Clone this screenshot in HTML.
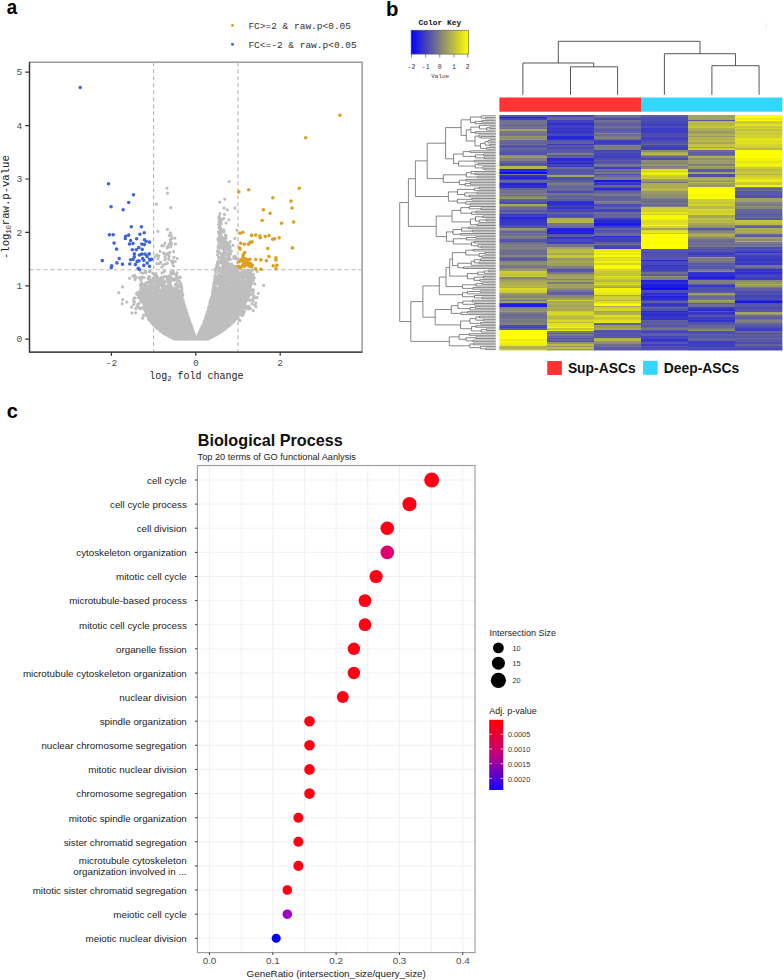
<!DOCTYPE html><html><head><meta charset="utf-8"><style>html,body{margin:0;padding:0;background:#fff;width:783px;height:980px;overflow:hidden}svg{display:block}</style></head><body><svg width="783" height="980" viewBox="0 0 783 980"><text transform="translate(6.8 14.3) scale(0.9 1)" font-family='"Liberation Sans", sans-serif' font-weight="bold" font-size="20.7" fill="#000">a</text><text x="386.1" y="15.6" font-family='"Liberation Sans", sans-serif' font-weight="bold" font-size="20.3" fill="#000">b</text><text x="6.7" y="417.8" font-family='"Liberation Sans", sans-serif' font-weight="bold" font-size="20" fill="#000">c</text><rect x="29.5" y="62.2" width="332.6" height="290.0" fill="#fff" stroke="#8a8a8a" stroke-width="1.3"/><g stroke="#b5b5b5" stroke-width="1.1" stroke-dasharray="4 3" fill="none"><path d="M29.5 269.7H362.1"/><path d="M153.6 62.2V352.2"/><path d="M238.0 62.2V352.2"/></g><path d="M221.8 328.3h0M212.2 336.7h0M200.6 333.3h0M146.0 312.2h0M220.8 311.3h0M190.9 336.8h0M213.6 334.6h0M212.4 333.9h0M208.6 321.6h0M160.9 317.6h0M241.6 309.5h0M228.7 307.5h0M178.6 324.6h0M181.0 326.8h0M184.2 328.5h0M201.9 339.1h0M173.6 335.0h0M221.6 328.2h0M190.3 339.0h0M239.1 303.6h0M240.2 296.7h0M209.8 327.8h0M234.5 266.7h0M226.8 261.9h0M228.7 323.8h0M190.3 325.4h0M202.8 337.2h0M215.1 328.5h0M156.3 327.2h0M156.8 326.5h0M163.6 313.9h0M158.0 258.9h0M222.5 301.0h0M190.3 332.5h0M223.9 301.9h0M212.8 316.1h0M186.5 335.8h0M161.9 305.4h0M174.3 315.4h0M182.6 336.9h0M165.3 327.0h0M213.0 335.4h0M174.2 331.1h0M169.2 333.8h0M239.0 283.7h0M163.6 328.1h0M164.2 326.9h0M210.6 336.0h0M208.0 315.6h0M217.6 327.3h0M225.9 273.7h0M209.9 317.2h0M236.0 313.0h0M235.5 295.2h0M209.8 334.5h0M152.3 321.7h0M200.2 338.7h0M190.9 329.7h0M188.5 330.1h0M219.5 328.8h0M214.6 330.1h0M218.1 295.3h0M187.5 324.4h0M161.5 313.4h0M172.0 322.7h0M221.5 285.0h0M185.5 338.6h0M235.8 303.6h0M204.6 330.0h0M167.7 317.4h0M213.6 336.1h0M201.0 329.6h0M249.9 292.2h0M191.1 336.2h0M203.7 337.9h0M209.8 336.9h0M186.2 329.0h0M149.8 304.3h0M221.4 301.0h0M203.7 337.5h0M167.3 328.5h0M141.9 308.2h0M192.0 337.0h0M203.1 328.9h0M171.9 329.0h0M180.9 321.5h0M183.7 323.1h0M165.7 313.3h0M231.8 321.6h0M168.6 328.3h0M223.8 312.9h0M203.0 332.6h0M230.2 253.8h0M225.3 316.3h0M235.6 258.1h0M231.2 290.6h0M201.9 338.4h0M219.2 329.5h0M205.3 319.5h0M160.8 327.5h0M177.8 336.7h0M214.5 314.5h0M224.8 327.0h0M202.4 330.4h0M238.3 315.2h0M213.5 324.0h0M181.9 334.4h0M202.7 337.0h0M213.0 295.4h0M183.1 338.0h0M172.6 334.1h0M192.3 335.4h0M213.6 293.1h0M219.9 319.0h0M170.0 335.5h0M172.9 262.3h0M201.8 328.4h0M175.8 335.0h0M166.3 327.1h0M164.4 333.4h0M155.5 312.3h0M243.0 301.7h0M161.9 320.9h0M231.3 299.4h0M234.1 314.6h0M204.8 338.0h0M220.4 326.3h0M230.4 314.2h0M231.6 309.0h0M209.0 338.1h0M223.6 320.4h0M188.9 338.8h0M210.4 323.8h0M162.6 327.4h0M172.5 337.2h0M202.1 332.3h0M160.2 329.4h0M220.2 319.4h0M200.2 336.2h0M159.2 323.1h0M172.1 337.7h0M225.8 277.1h0M153.3 323.9h0M170.3 327.4h0M180.5 338.3h0M224.5 307.1h0M209.7 334.2h0M209.6 330.1h0M204.3 331.5h0M164.8 330.8h0M183.6 338.7h0M227.8 313.7h0M208.7 317.8h0M241.7 302.2h0M234.2 270.0h0M169.2 311.2h0M202.0 337.2h0M214.2 335.2h0M222.6 288.5h0M162.2 330.1h0M211.4 322.1h0M206.9 327.1h0M213.5 329.5h0M236.5 311.8h0M174.9 338.5h0M219.0 328.4h0M219.9 299.9h0M249.8 274.7h0M189.8 323.1h0M213.7 333.0h0M176.2 335.5h0M182.7 333.5h0M250.7 288.7h0M197.9 337.1h0M187.6 335.2h0M207.0 336.2h0M222.4 324.2h0M206.1 337.2h0M224.6 258.1h0M165.3 314.3h0M157.7 314.0h0M231.1 300.4h0M210.8 326.0h0M222.6 264.0h0M179.1 329.7h0M185.0 306.7h0M218.5 330.2h0M223.7 249.7h0M184.1 318.0h0M193.7 338.0h0M230.1 324.8h0M205.5 334.4h0M176.6 331.6h0M166.2 330.3h0M239.0 300.8h0M221.8 326.3h0M179.0 280.8h0M176.3 335.2h0M178.3 338.5h0M199.4 335.5h0M170.1 285.3h0M160.9 319.6h0M222.7 312.6h0M161.7 299.7h0M184.4 335.1h0M211.6 312.3h0M174.1 336.5h0M193.5 335.1h0M242.8 291.7h0M207.5 333.0h0M194.5 336.9h0M238.2 301.6h0M212.7 326.3h0M211.2 328.8h0M192.8 330.2h0M248.9 284.9h0M166.1 331.7h0M181.2 330.9h0M191.0 335.7h0M216.0 334.1h0M169.6 319.0h0M217.4 331.6h0M207.3 336.6h0M224.3 296.9h0M222.2 255.2h0M182.3 311.4h0M176.0 328.8h0M181.0 338.2h0M185.4 321.7h0M242.7 307.3h0M229.9 321.0h0M224.4 329.5h0M146.5 297.7h0M162.2 321.7h0M166.2 302.8h0M211.9 316.6h0M186.0 321.3h0M184.4 328.0h0M180.3 311.4h0M167.2 313.9h0M171.4 319.1h0M189.7 325.1h0M140.0 293.9h0M200.5 332.6h0M214.6 326.5h0M162.1 317.4h0M247.2 279.9h0M212.5 332.9h0M143.3 302.4h0M159.4 302.7h0M253.2 292.0h0M249.6 281.0h0M206.9 336.9h0M239.4 308.8h0M209.8 311.8h0M185.7 335.9h0M180.2 330.6h0M176.8 308.9h0M167.7 324.1h0M165.6 321.5h0M220.7 331.3h0M159.0 297.0h0M214.7 331.8h0M209.9 330.1h0M223.3 316.2h0M229.9 275.5h0M188.8 327.3h0M219.1 300.8h0M235.1 308.5h0M213.2 324.7h0M204.5 332.5h0M203.7 336.7h0M249.8 291.1h0M217.9 300.0h0M178.5 331.3h0M173.7 333.3h0M185.7 339.1h0M187.5 338.1h0M208.5 335.2h0M168.2 334.6h0M213.9 317.7h0M169.3 331.2h0M210.7 300.0h0M173.9 334.2h0M179.8 333.3h0M211.5 320.4h0M160.3 321.6h0M182.1 323.5h0M168.3 277.7h0M189.0 336.1h0M203.6 325.0h0M218.0 317.2h0M174.8 328.3h0M212.1 331.6h0M235.3 316.8h0M172.3 322.0h0M213.2 293.2h0M176.6 334.2h0M193.9 339.1h0M238.6 294.9h0M172.2 333.1h0M244.8 290.7h0M213.8 283.8h0M176.8 339.0h0M233.8 289.4h0M239.0 299.0h0M181.3 329.2h0M173.1 324.6h0M182.3 309.2h0M192.5 337.6h0M222.0 303.8h0M159.4 290.5h0M186.3 325.7h0M227.4 259.8h0M152.6 318.2h0M218.2 331.6h0M222.6 320.9h0M154.2 287.3h0M206.7 339.1h0M202.3 336.5h0M233.9 306.7h0M235.6 317.6h0M234.0 304.8h0M242.4 291.0h0M221.3 260.1h0M191.7 326.8h0M241.8 290.6h0M153.2 307.8h0M165.8 326.1h0M229.2 299.9h0M224.1 308.5h0M190.5 327.6h0M240.5 309.9h0M216.2 323.9h0M203.7 328.4h0M152.4 322.4h0M170.4 308.1h0M167.4 303.2h0M147.8 299.8h0M182.1 338.8h0M229.1 305.2h0M203.4 338.5h0M209.9 302.8h0M168.5 326.9h0M214.0 323.0h0M211.0 337.1h0M169.6 281.2h0M220.5 312.4h0M144.3 290.1h0M240.8 305.8h0M205.5 321.4h0M171.2 336.9h0M191.3 334.3h0M177.2 335.8h0M202.0 332.9h0M170.9 332.9h0M205.1 335.4h0M170.0 332.3h0M207.7 311.4h0M216.7 297.8h0M157.8 306.7h0M226.9 327.2h0M238.2 313.4h0M184.0 338.0h0M240.7 296.0h0M172.7 296.0h0M198.5 338.4h0M171.2 329.2h0M183.5 335.2h0M156.7 316.3h0M177.0 335.2h0M165.3 332.8h0M190.1 331.2h0M159.9 324.1h0M180.2 323.3h0M204.2 335.0h0M183.6 319.4h0M215.2 329.9h0M211.7 302.9h0M206.6 325.4h0M247.2 275.9h0M156.8 263.7h0M210.6 321.6h0M207.9 318.5h0M202.0 331.6h0M161.9 327.5h0M207.0 331.9h0M161.5 294.6h0M208.5 325.9h0M192.2 328.7h0M166.5 324.9h0M190.3 330.9h0M237.2 278.9h0M158.9 312.0h0M240.4 301.4h0M211.5 301.6h0M233.5 320.9h0M171.8 334.0h0M166.1 332.9h0M222.3 325.5h0M155.1 325.4h0M163.8 330.6h0M200.8 334.6h0M172.9 332.2h0M172.1 331.2h0M205.8 318.3h0M174.0 322.4h0M181.4 325.4h0M189.2 326.8h0M173.1 319.6h0M203.4 334.8h0M187.7 321.7h0M168.2 334.8h0M189.3 333.1h0M157.3 278.2h0M182.6 322.2h0M206.9 325.7h0M215.1 329.7h0M175.9 332.2h0M175.7 329.5h0M176.7 323.5h0M173.6 317.0h0M230.9 310.7h0M213.4 319.7h0M220.4 315.0h0M232.0 320.5h0M236.8 316.2h0M218.8 326.6h0M194.6 338.2h0M176.6 321.6h0M234.7 308.6h0M211.4 322.8h0M206.9 330.4h0M214.7 278.6h0M182.4 336.6h0M173.4 318.2h0M208.1 322.9h0M167.8 323.5h0M224.7 321.9h0M220.8 316.4h0M227.2 325.2h0M168.1 310.2h0M158.4 318.4h0M226.8 272.6h0M218.2 320.4h0M171.7 289.0h0M189.0 332.3h0M173.4 313.8h0M213.2 329.0h0M235.4 316.6h0M226.4 322.0h0M181.4 310.4h0M207.7 338.3h0M182.4 316.8h0M186.1 317.8h0M184.4 314.6h0M164.7 290.4h0M223.7 319.2h0M187.7 333.0h0M232.3 301.4h0M234.7 293.1h0M207.7 312.9h0M176.8 334.4h0M220.8 322.6h0M178.5 337.8h0M212.1 328.1h0M212.2 333.1h0M170.5 319.9h0M176.5 314.6h0M156.9 324.3h0M170.6 326.3h0M239.1 293.9h0M169.0 324.4h0M160.8 331.1h0M175.9 303.1h0M159.2 303.4h0M181.1 307.5h0M164.6 316.4h0M200.7 338.3h0M220.5 299.9h0M161.5 306.6h0M162.6 325.7h0M172.6 263.3h0M227.0 321.1h0M211.8 297.1h0M240.7 308.8h0M179.7 335.0h0M145.1 308.6h0M177.1 330.5h0M213.7 318.3h0M226.2 318.9h0M172.9 306.2h0M186.7 331.9h0M176.4 284.8h0M188.8 334.5h0M175.9 311.3h0M197.8 336.4h0M148.8 300.0h0M149.8 277.2h0M172.5 335.9h0M205.2 339.0h0M216.6 327.8h0M208.4 329.8h0M197.8 338.1h0M213.5 313.9h0M218.1 323.7h0M224.4 246.9h0M164.8 332.6h0M224.1 319.1h0M230.2 314.0h0M178.5 292.9h0M243.3 292.3h0M216.3 300.0h0M158.0 317.7h0M176.0 324.7h0M213.7 309.5h0M179.5 337.3h0M178.1 332.2h0M213.8 318.1h0M171.3 235.7h0M255.9 306.6h0M222.9 330.5h0M226.6 303.3h0M221.7 308.6h0M230.4 308.7h0M213.5 291.8h0M234.6 289.6h0M224.2 261.6h0M203.7 325.3h0M231.1 281.9h0M234.2 309.2h0M192.3 334.3h0M217.0 327.7h0M179.9 318.2h0M214.9 310.7h0M186.3 331.0h0M218.8 332.2h0M217.0 316.7h0M187.2 333.4h0M163.9 322.1h0M220.1 302.4h0M174.4 333.5h0M218.7 309.6h0M216.1 321.7h0M230.5 320.6h0M150.9 316.7h0M165.1 317.7h0M224.0 279.7h0M153.5 311.8h0M148.8 315.6h0M160.7 307.5h0M151.9 289.2h0M230.5 321.5h0M179.7 311.3h0M216.4 332.2h0M162.6 315.7h0M159.5 329.1h0M175.9 326.9h0M241.3 279.2h0M221.3 291.0h0M183.0 325.7h0M199.2 334.2h0M225.2 276.4h0M164.9 329.8h0M177.2 336.6h0M220.8 219.5h0M185.0 327.4h0M218.5 316.1h0M168.4 334.2h0M165.5 291.9h0M158.9 315.2h0M228.6 321.7h0M171.5 324.9h0M178.4 318.6h0M164.7 281.7h0M185.0 322.3h0M166.0 305.3h0M145.1 293.9h0M221.5 326.1h0M174.1 338.3h0M216.2 326.5h0M192.1 331.3h0M219.9 313.0h0M184.8 329.6h0M217.1 334.1h0M172.2 328.4h0M223.0 301.7h0M208.3 326.7h0M206.5 322.7h0M151.6 306.7h0M180.0 335.5h0M171.3 303.0h0M220.2 318.1h0M181.0 328.1h0M205.4 330.5h0M188.0 328.7h0M145.1 298.8h0M210.1 337.4h0M145.4 297.8h0M236.0 298.6h0M146.1 282.8h0M181.5 319.3h0M210.3 301.0h0M162.1 325.5h0M153.8 291.1h0M240.4 298.3h0M218.7 322.5h0M230.5 320.0h0M155.1 303.8h0M232.8 315.1h0M200.3 338.8h0M165.4 334.0h0M167.4 300.3h0M166.4 318.1h0M177.3 306.3h0M185.1 331.7h0M210.7 323.5h0M183.6 306.7h0M212.9 293.5h0M183.3 316.5h0M168.0 285.9h0M150.0 302.3h0M175.3 325.3h0M150.1 320.5h0M190.6 329.6h0M165.4 316.2h0M139.7 278.0h0M154.3 319.2h0M207.5 332.7h0M151.2 314.5h0M151.9 322.8h0M220.7 318.3h0M191.1 337.7h0M172.3 318.0h0M200.1 332.1h0M150.7 303.6h0M170.6 324.3h0M250.4 294.6h0M205.5 322.0h0M215.9 292.2h0M179.4 338.7h0M217.3 330.8h0M126.9 302.1h0M235.9 286.5h0M249.7 284.0h0M235.0 313.6h0M149.7 277.5h0M251.0 276.5h0M205.6 326.1h0M225.1 321.1h0M193.2 333.7h0M165.9 332.2h0M183.9 339.1h0M242.3 296.2h0M209.0 318.6h0M207.5 339.0h0M167.3 315.2h0M183.6 324.9h0M233.8 316.3h0M188.5 322.9h0M208.1 320.6h0M230.4 317.1h0M185.4 324.1h0M220.9 293.6h0M245.0 274.4h0M205.2 330.0h0M241.1 305.1h0M167.8 312.9h0M152.3 316.0h0M228.8 311.6h0M154.8 321.4h0M230.9 313.0h0M201.7 328.7h0M217.3 300.3h0M223.0 287.2h0M162.7 332.7h0M225.2 311.0h0M223.0 328.7h0M153.3 278.1h0M159.8 322.8h0M227.7 326.5h0M237.1 307.4h0M212.4 295.8h0M182.3 332.9h0M173.6 293.5h0M185.5 310.3h0M214.4 307.4h0M158.4 310.1h0M203.6 339.0h0M218.6 310.2h0M188.4 339.0h0M153.0 282.0h0M188.2 327.4h0M184.5 332.8h0M219.3 313.9h0M177.7 319.0h0M148.1 278.7h0M233.3 279.4h0M171.6 310.3h0M180.9 319.3h0M243.1 277.7h0M238.0 258.5h0M172.9 337.8h0M219.9 319.9h0M149.9 310.5h0M156.7 254.9h0M209.4 338.3h0M235.6 284.2h0M224.7 312.6h0M154.2 274.5h0M175.4 311.7h0M177.0 272.8h0M243.3 291.2h0M175.2 297.6h0M184.1 305.6h0M169.2 319.4h0M184.6 319.3h0M171.5 294.9h0M235.7 285.9h0M153.6 314.9h0M202.0 326.7h0M173.7 338.3h0M220.3 328.9h0M177.0 327.3h0M159.2 263.4h0M156.6 290.3h0M143.0 302.2h0M166.9 332.6h0M205.1 320.8h0M165.1 307.9h0M141.4 278.7h0M224.8 306.5h0M218.3 318.1h0M237.1 312.1h0M219.4 227.7h0M210.4 301.8h0M176.3 336.7h0M223.2 312.5h0M177.0 316.2h0M228.4 323.3h0M244.8 285.0h0M234.7 267.7h0M202.9 339.0h0M174.8 329.3h0M236.1 271.7h0M170.8 327.1h0M156.2 326.8h0M157.0 324.2h0M177.9 301.6h0M160.6 305.1h0M225.4 326.4h0M147.1 311.0h0M180.4 328.0h0M155.0 287.4h0M209.2 319.6h0M215.5 329.6h0M225.6 272.6h0M210.3 307.3h0M215.5 324.9h0M184.0 321.8h0M231.7 323.3h0M211.8 311.0h0M211.8 298.5h0M194.9 337.4h0M180.5 316.6h0M213.4 327.5h0M228.9 271.6h0M225.2 316.7h0M171.7 320.2h0M175.2 290.9h0M231.6 307.8h0M224.4 328.2h0M142.5 297.1h0M245.4 299.2h0M218.6 302.2h0M225.5 301.9h0M184.6 327.4h0M220.6 310.5h0M143.5 301.7h0M249.4 291.6h0M233.4 293.9h0M225.6 238.9h0M209.6 308.3h0M222.3 292.7h0M242.0 300.5h0M204.9 326.7h0M176.7 310.6h0M217.8 329.7h0M213.8 310.5h0M211.4 336.9h0M215.7 306.7h0M219.5 312.0h0M205.3 323.4h0M234.3 284.5h0M147.6 303.2h0M197.1 339.0h0M154.5 275.2h0M223.7 311.3h0M248.3 296.9h0M145.7 311.3h0M157.9 294.9h0M167.8 325.6h0M187.7 318.5h0M233.6 287.7h0M167.5 335.3h0M216.3 293.2h0M216.4 317.4h0M184.0 327.1h0M231.2 288.9h0M246.0 307.7h0M228.8 319.3h0M226.8 318.8h0M152.9 307.7h0M179.7 327.2h0M219.3 310.1h0M165.1 318.4h0M209.8 318.5h0M169.0 275.8h0M183.4 330.1h0M140.9 292.1h0M188.5 326.6h0M250.0 300.1h0M214.7 316.0h0M168.3 330.0h0M159.6 319.1h0M151.5 321.3h0M179.5 300.7h0M221.8 310.8h0M228.9 281.4h0M219.9 289.8h0M179.5 334.0h0M163.9 324.7h0M238.2 294.8h0M237.1 311.0h0M183.2 328.4h0M155.3 288.0h0M198.4 338.8h0M156.8 297.0h0M245.1 272.9h0M183.0 309.8h0M208.9 313.1h0M224.0 327.0h0M222.9 238.0h0M154.4 309.5h0M171.4 320.8h0M157.4 328.4h0M219.1 323.7h0M217.0 332.8h0M223.3 310.5h0M221.2 282.6h0M251.1 271.2h0M160.8 324.4h0M161.8 319.6h0M194.4 335.5h0M161.5 316.3h0M248.1 291.4h0M155.7 295.0h0M151.8 290.0h0M244.4 311.5h0M220.6 291.5h0M153.4 301.6h0M226.0 306.8h0M227.9 318.4h0M185.1 335.2h0M244.2 296.8h0M219.4 322.7h0M179.7 339.0h0M153.1 295.0h0M169.1 315.0h0M209.9 312.8h0M225.3 282.0h0M226.4 302.6h0M252.1 281.7h0M186.3 317.0h0M159.5 314.6h0M208.0 317.2h0M227.5 273.8h0M207.9 331.0h0M192.6 338.6h0M154.0 297.4h0M179.7 303.2h0M206.2 339.1h0M223.2 325.7h0M207.6 324.1h0M216.7 310.0h0M173.3 320.9h0M167.9 319.0h0M237.6 291.3h0M140.1 308.8h0M220.4 229.9h0M233.5 266.0h0M166.0 296.0h0M169.1 285.1h0M219.9 332.1h0M162.9 283.7h0M220.2 305.8h0M222.1 290.6h0M252.5 269.7h0M244.1 298.3h0M177.1 323.1h0M220.0 325.2h0M227.3 314.7h0M219.4 279.2h0M246.7 298.9h0M180.9 325.2h0M232.7 317.5h0M170.3 321.0h0M231.0 322.8h0M238.5 309.8h0M166.7 304.7h0M235.3 310.8h0M230.9 314.4h0M218.3 315.5h0M166.0 328.5h0M178.1 324.5h0M221.3 329.2h0M163.8 303.5h0M152.3 318.9h0M214.8 308.3h0M179.2 327.0h0M171.2 310.2h0M253.2 274.4h0M221.6 312.9h0M220.5 281.7h0M190.8 324.6h0M167.7 312.2h0M206.8 315.8h0M238.7 282.8h0M157.1 287.4h0M225.0 308.1h0M183.9 332.7h0M167.2 321.7h0M219.0 312.9h0M173.4 326.2h0M236.9 317.0h0M224.0 314.5h0M174.0 328.8h0M227.1 245.4h0M222.6 323.1h0M211.4 304.1h0M230.0 317.1h0M216.8 278.7h0M223.5 315.2h0M231.9 286.9h0M229.6 291.3h0M247.1 290.5h0M176.0 320.8h0M147.9 300.5h0M235.3 312.7h0M177.8 315.9h0M196.3 338.9h0M155.7 303.7h0M208.9 310.3h0M169.7 335.6h0M234.0 292.6h0M159.5 317.0h0M194.5 339.1h0M209.4 327.8h0M222.4 304.2h0M235.8 316.2h0M218.5 311.4h0M212.4 317.7h0M231.3 250.9h0M194.4 335.1h0M132.0 312.9h0M207.0 329.6h0M175.8 309.0h0M227.0 300.6h0M220.5 283.4h0M204.2 321.3h0M242.8 300.3h0M209.7 331.8h0M228.3 311.1h0M223.4 314.0h0M166.4 319.0h0M146.6 305.5h0M226.7 322.7h0M156.7 321.2h0M238.6 319.2h0M197.6 338.8h0M231.8 303.9h0M167.3 296.1h0M167.3 322.3h0M176.0 338.3h0M167.5 294.8h0M161.7 324.4h0M171.8 326.9h0M236.9 301.3h0M176.2 339.0h0M159.2 319.4h0M232.0 305.0h0M249.9 293.4h0M166.7 331.3h0M217.5 319.5h0M230.1 301.6h0M240.6 287.2h0M166.2 298.2h0M153.4 320.2h0M232.3 318.4h0M231.1 294.6h0M231.7 296.6h0M151.7 280.6h0M165.5 319.6h0M144.6 309.1h0M222.1 286.2h0M168.7 258.7h0M217.0 307.7h0M228.6 324.7h0M165.1 325.0h0M140.1 290.9h0M204.4 322.9h0M211.4 305.5h0M135.1 298.0h0M183.7 309.6h0M234.0 306.9h0M192.0 338.5h0M227.9 312.5h0M179.4 322.2h0M159.3 324.4h0M249.1 279.3h0M153.0 308.3h0M234.1 309.8h0M187.4 320.1h0M157.8 319.7h0M170.4 232.8h0M143.1 303.3h0M142.3 291.0h0M211.6 315.9h0M160.8 290.2h0M216.4 318.0h0M228.9 300.5h0M159.9 325.4h0M193.2 333.2h0M154.6 293.7h0M225.0 305.8h0M166.5 289.2h0M217.6 300.8h0M240.1 312.9h0M246.8 286.6h0M158.5 327.9h0M185.6 315.3h0M149.6 311.9h0M212.1 312.9h0M229.6 253.2h0M169.3 331.6h0M216.1 322.6h0M235.6 308.3h0M185.9 326.0h0M215.0 334.9h0M233.2 293.8h0M179.2 306.5h0M189.0 321.9h0M236.9 308.9h0M157.0 321.3h0M227.4 280.4h0M188.2 318.3h0M162.4 318.8h0M224.2 305.1h0M218.0 325.7h0M164.3 312.0h0M173.6 306.2h0M221.7 316.7h0M181.8 288.6h0M237.2 313.7h0M170.2 321.5h0M176.6 326.6h0M217.5 333.9h0M209.0 323.7h0M162.4 305.7h0M220.1 307.5h0M172.9 314.7h0M227.8 290.1h0M162.3 322.5h0M226.9 248.3h0M160.3 302.1h0M168.6 315.4h0M146.9 307.4h0M206.7 314.4h0M174.8 327.8h0M200.4 330.5h0M239.3 306.7h0M148.8 290.7h0M152.9 314.0h0M180.4 315.2h0M228.3 263.7h0M183.9 310.2h0M219.5 237.4h0M212.8 310.8h0M188.5 320.6h0M150.7 286.2h0M211.1 300.2h0M205.7 319.0h0M175.6 306.8h0M173.6 266.0h0M254.7 305.1h0M234.4 320.6h0M160.1 315.4h0M182.8 312.4h0M220.5 295.7h0M156.5 306.3h0M212.8 336.3h0M154.2 310.2h0M211.1 307.5h0M138.8 296.2h0M226.1 326.8h0M154.9 326.2h0M172.1 306.2h0M234.4 306.9h0M236.2 288.8h0M157.9 310.6h0M227.1 312.2h0M149.5 313.4h0M187.2 323.9h0M158.2 324.8h0M235.5 318.8h0M212.3 306.0h0M229.8 277.1h0M146.1 310.5h0M178.2 329.6h0M233.0 318.5h0M154.1 295.8h0M172.8 298.1h0M157.2 322.4h0M184.6 312.9h0M230.4 259.3h0M213.8 320.8h0M237.0 275.2h0M169.8 252.3h0M156.0 318.9h0M174.7 310.4h0M221.4 239.7h0M217.7 279.5h0M233.1 316.1h0M233.4 313.2h0M226.4 314.7h0M143.2 294.9h0M146.6 312.8h0M216.2 301.4h0M148.2 282.4h0M228.3 314.4h0M193.5 339.0h0M169.4 311.7h0M221.0 223.2h0M172.8 317.1h0M247.4 284.8h0M160.1 304.0h0M149.1 317.8h0M151.2 321.9h0M242.7 298.9h0M216.7 315.5h0M170.0 316.2h0M208.8 338.4h0M162.8 299.9h0M192.8 338.8h0M156.8 311.3h0M160.5 294.3h0M175.3 324.3h0M223.6 244.7h0M242.6 306.8h0M168.1 319.3h0M168.4 321.9h0M212.6 313.6h0M224.0 324.6h0M201.8 327.6h0M145.7 299.4h0M170.7 279.8h0M163.5 301.7h0M166.9 324.1h0M231.3 269.6h0M198.8 334.7h0M193.1 332.6h0M189.4 320.5h0M163.4 245.8h0M175.2 312.7h0M181.2 299.0h0M161.7 295.0h0M251.1 283.1h0M207.0 328.9h0M148.7 290.1h0M154.6 325.3h0M225.4 261.6h0M194.6 336.3h0M208.6 308.8h0M248.0 306.5h0M147.8 314.1h0M204.0 328.7h0M174.7 302.0h0M224.6 297.6h0M234.8 311.7h0M182.0 304.4h0M156.5 304.3h0M158.1 326.7h0M159.6 307.8h0M170.1 312.7h0M239.3 297.0h0M162.3 289.5h0M230.3 312.2h0M229.1 246.7h0M214.7 299.1h0M213.0 307.7h0M233.8 311.2h0M154.4 311.8h0M240.6 290.4h0M214.9 275.8h0M236.5 305.3h0M223.9 284.0h0M163.5 305.8h0M165.0 292.5h0M171.5 301.2h0M230.7 303.0h0M242.8 302.9h0M164.0 322.7h0M218.3 264.0h0M230.1 315.5h0M231.6 305.5h0M223.2 299.8h0M170.6 291.0h0M225.8 289.0h0M239.0 282.6h0M225.7 299.4h0M206.1 327.6h0M177.3 309.9h0M216.6 289.2h0M181.2 300.0h0M175.6 298.6h0M215.8 302.7h0M167.4 281.2h0M232.8 310.4h0M238.6 287.4h0M161.1 283.5h0M220.0 291.2h0M243.7 276.2h0M133.7 301.0h0M149.7 319.2h0M235.5 303.7h0M227.4 253.7h0M160.5 295.4h0M145.2 308.1h0M156.7 298.0h0M146.6 304.9h0M151.0 318.5h0M238.1 290.9h0M183.4 339.0h0M236.2 294.0h0M156.4 313.6h0M147.4 304.7h0M216.0 314.6h0M184.9 339.1h0M219.5 332.6h0M226.1 322.4h0M150.1 296.9h0M231.5 282.8h0M168.1 317.2h0M246.2 296.0h0M198.2 335.7h0M226.6 323.4h0M168.7 306.1h0M186.3 315.9h0M147.8 308.6h0M223.9 309.7h0M228.8 306.3h0M161.5 297.3h0M237.9 313.1h0M228.8 269.5h0M229.1 310.8h0M179.5 307.1h0M147.8 307.2h0M159.5 322.2h0M250.1 275.2h0M172.6 327.1h0M148.7 312.2h0M212.0 315.0h0M220.8 306.8h0M150.5 284.9h0M220.4 227.5h0M179.9 311.9h0M156.3 315.8h0M199.2 338.8h0M176.7 298.5h0M160.4 299.3h0M232.8 276.2h0M159.6 309.3h0M142.9 294.0h0M218.3 252.1h0M233.2 278.2h0M152.9 294.4h0M160.7 330.3h0M162.0 295.7h0M220.0 332.5h0M162.3 319.7h0M235.8 284.7h0M219.4 285.7h0M177.4 313.0h0M148.6 319.5h0M177.4 289.0h0M243.0 310.6h0M141.7 283.4h0M219.5 304.5h0M164.7 298.3h0M179.3 311.9h0M210.5 313.4h0M225.2 305.7h0M155.6 315.1h0M148.0 293.2h0M191.2 325.4h0M212.3 298.1h0M218.9 249.0h0M169.7 323.3h0M154.6 303.2h0M218.3 298.7h0M191.7 338.9h0M170.8 317.4h0M221.9 295.4h0M219.6 239.5h0M235.9 266.4h0M211.9 307.3h0M171.1 307.9h0M141.1 272.5h0M154.1 308.4h0M234.1 304.4h0M222.7 293.0h0M180.7 338.9h0M222.3 277.5h0M200.1 331.6h0M227.2 248.1h0M175.4 317.2h0M163.6 309.6h0M171.2 337.3h0M204.3 338.9h0M213.2 309.6h0M224.9 247.4h0M176.2 305.3h0M180.6 313.2h0M171.3 310.2h0M236.3 306.1h0M170.2 336.8h0M228.4 304.2h0M171.0 315.3h0M143.7 315.3h0M177.4 314.8h0M226.3 285.9h0M225.9 298.8h0M218.0 293.3h0M162.9 301.0h0M159.4 311.6h0M168.4 335.3h0M154.6 321.7h0M214.0 298.5h0M230.6 296.8h0M162.8 279.3h0M218.5 258.0h0M164.7 319.6h0M244.6 301.3h0M206.0 317.8h0M162.8 314.2h0M241.4 275.4h0M243.7 304.3h0M164.4 276.5h0M155.0 256.9h0M217.0 303.6h0M212.7 319.3h0M195.1 339.0h0M228.0 249.2h0M141.7 299.7h0M174.8 288.1h0M224.9 301.4h0M225.6 303.3h0M214.8 278.9h0M156.1 327.3h0M224.6 293.9h0M150.9 312.5h0M185.8 311.8h0M222.0 299.0h0M230.9 299.2h0M210.9 325.4h0M234.3 287.1h0M180.6 315.7h0M223.0 319.2h0M151.4 296.3h0M140.2 284.7h0M250.1 276.5h0M150.4 288.4h0M239.1 306.8h0M159.5 312.9h0M244.4 270.1h0M151.0 305.2h0M230.2 247.6h0M213.7 306.7h0M187.7 339.2h0M174.4 319.2h0M237.8 304.4h0M155.6 324.6h0M143.3 277.4h0M240.0 313.4h0M174.0 294.8h0M173.7 280.2h0M142.6 318.2h0M241.3 289.9h0M243.4 295.5h0M221.0 244.1h0M151.9 302.9h0M178.4 338.9h0M226.2 314.3h0M232.2 290.8h0M164.0 291.3h0M149.7 299.5h0M228.8 290.4h0M215.6 312.0h0M242.9 279.4h0M170.2 299.5h0M143.7 293.9h0M255.8 303.2h0M212.7 301.0h0M148.5 315.8h0M218.6 283.5h0M227.3 273.1h0M213.9 303.4h0M221.6 296.9h0M246.5 285.2h0M231.6 271.9h0M174.9 238.1h0M161.3 292.1h0M150.5 309.9h0M154.6 313.9h0M199.7 331.8h0M184.9 308.4h0M239.6 312.9h0M162.7 287.4h0M170.3 290.6h0M152.4 297.4h0M230.4 251.0h0M205.2 320.2h0M169.2 235.6h0M174.8 304.9h0M169.4 293.8h0M204.0 323.8h0M221.6 317.7h0M165.7 322.9h0M242.7 305.9h0M139.7 298.1h0M183.6 331.1h0M222.3 320.5h0M225.8 328.5h0M151.9 299.4h0M141.9 296.6h0M211.2 304.6h0M181.4 339.2h0M169.5 304.4h0M227.6 316.7h0M199.2 333.1h0M194.8 336.5h0M244.4 286.9h0M243.6 272.0h0M254.0 277.6h0M247.8 269.8h0M151.1 310.0h0M157.1 280.7h0M235.1 270.3h0M218.5 314.7h0M168.7 309.6h0M164.7 287.5h0M162.7 292.3h0M215.5 335.1h0M144.4 285.6h0M155.7 323.9h0M192.1 339.1h0M240.0 284.8h0M152.3 323.4h0M150.9 285.5h0M180.4 295.1h0M186.5 338.8h0M179.7 320.8h0M247.4 275.9h0M220.0 297.3h0M216.7 265.4h0M229.0 243.2h0M222.2 285.5h0M224.9 289.7h0M146.3 290.2h0M219.1 227.9h0M232.7 322.0h0M152.7 301.1h0M164.8 311.4h0M218.6 313.3h0M182.6 299.5h0M216.4 311.8h0M165.1 256.4h0M244.1 305.8h0M247.7 277.8h0M205.9 317.3h0M217.5 298.5h0M227.2 290.1h0M153.2 324.5h0M250.1 282.9h0M169.0 299.1h0M228.8 309.0h0M171.8 312.4h0M233.8 288.3h0M244.0 293.1h0M212.0 337.0h0M215.5 287.5h0M231.8 297.4h0M229.0 325.7h0M170.5 312.9h0M172.1 312.0h0M170.7 246.8h0M257.2 271.4h0M244.5 285.4h0M187.0 315.2h0M177.8 320.8h0M227.1 286.3h0M233.5 273.0h0M149.7 278.4h0M241.0 298.1h0M176.1 283.5h0M223.2 262.6h0M214.5 281.8h0M249.1 282.2h0M154.4 310.7h0M179.6 313.5h0M152.4 312.3h0M220.6 304.6h0M233.3 302.6h0M171.4 303.3h0M241.8 272.1h0M167.1 309.4h0M214.0 289.5h0M174.4 303.5h0M240.2 311.4h0M227.4 304.9h0M174.3 306.8h0M160.3 282.2h0M154.8 306.6h0M228.6 265.7h0M164.2 333.3h0M243.4 303.1h0M171.6 302.6h0M174.3 308.0h0M212.8 305.8h0M200.6 330.1h0M153.3 306.2h0M223.0 299.5h0M187.4 317.0h0M230.0 277.9h0M221.4 236.8h0M227.4 299.2h0M147.8 314.5h0M166.3 310.2h0M180.0 277.0h0M149.1 309.9h0M161.8 245.7h0M237.3 317.2h0M183.5 314.0h0M215.1 318.7h0M240.0 320.6h0M154.7 297.0h0M162.0 308.6h0M182.1 296.1h0M163.4 296.9h0M223.2 297.8h0M229.2 297.6h0M226.4 298.7h0M212.2 302.6h0M165.3 299.8h0M239.1 315.0h0M159.6 329.9h0M235.3 300.3h0M231.8 305.4h0M240.9 285.3h0M145.7 273.0h0M225.3 263.7h0M145.3 296.5h0M157.0 308.3h0M239.0 308.9h0M161.0 310.2h0M178.5 290.0h0M217.2 283.8h0M219.8 202.1h0M221.7 267.6h0M187.3 315.7h0M172.5 303.3h0M145.7 307.6h0M169.1 244.0h0M154.3 287.2h0M147.2 303.3h0M233.9 295.1h0M153.9 301.7h0M247.2 287.3h0M245.9 283.4h0M229.7 245.9h0M221.5 306.0h0M146.5 309.8h0M146.9 297.8h0M218.4 293.1h0M164.8 302.1h0M211.5 297.5h0M215.5 303.2h0M182.8 315.1h0M147.8 306.2h0M225.1 254.8h0M222.5 239.0h0M144.3 301.6h0M155.6 319.0h0M153.1 315.8h0M230.0 281.8h0M227.6 298.0h0M177.2 318.2h0M241.8 304.9h0M234.8 280.1h0M154.5 301.7h0M201.1 339.1h0M159.8 305.6h0M214.9 290.9h0M155.6 309.7h0M239.5 283.2h0M140.9 289.2h0M205.4 318.5h0M210.0 309.8h0M179.4 303.4h0M193.3 332.7h0M248.5 295.6h0M158.7 299.9h0M137.6 292.7h0M176.7 293.9h0M145.4 302.7h0M225.8 311.2h0M227.8 289.3h0M238.7 281.4h0M242.6 289.4h0M208.0 314.5h0M203.4 323.9h0M230.6 287.8h0M243.7 275.7h0M145.7 295.6h0M155.0 291.3h0M228.6 301.4h0M214.2 312.3h0M224.4 265.7h0M218.7 224.9h0M181.8 287.5h0M169.5 297.4h0M149.3 295.2h0M250.3 281.7h0M229.8 307.2h0M237.8 298.0h0M180.2 307.6h0M222.6 330.7h0M229.8 273.8h0M185.9 309.7h0M166.3 294.1h0M162.2 311.3h0M247.7 284.6h0M188.7 319.0h0M224.1 296.1h0M231.9 295.5h0M220.2 306.7h0M213.4 303.0h0M157.1 304.5h0M143.4 292.0h0M176.6 283.6h0M228.4 255.7h0M178.1 300.7h0M218.6 307.8h0M150.3 292.3h0M156.1 306.6h0M179.1 309.9h0M233.9 321.2h0M141.5 277.1h0M146.1 289.8h0M222.8 295.2h0M143.6 296.5h0M155.1 314.8h0M226.3 243.1h0M242.5 282.6h0M246.7 271.7h0M142.4 285.3h0M143.3 303.3h0M221.8 242.6h0M178.0 306.4h0M210.2 301.5h0M250.5 286.0h0M223.3 241.3h0M154.9 298.6h0M240.3 312.2h0M160.4 331.0h0M150.1 294.5h0M232.3 280.7h0M211.6 309.4h0M152.6 297.8h0M172.4 311.2h0M239.6 286.0h0M215.7 300.4h0M225.9 310.0h0M233.4 295.9h0M237.3 296.6h0M234.9 295.6h0M161.5 304.7h0M248.0 288.0h0M168.3 282.8h0M145.1 304.7h0M224.8 237.6h0M226.5 307.6h0M166.6 299.9h0M221.8 248.1h0M215.4 320.6h0M215.6 268.8h0M161.7 303.3h0M157.8 284.4h0M181.2 290.6h0M223.0 244.6h0M208.5 310.2h0M225.3 239.4h0M144.0 286.1h0M229.1 256.8h0M219.3 293.1h0M148.0 317.1h0M245.9 296.9h0M177.6 301.4h0M178.0 307.7h0M156.3 283.5h0M155.7 285.3h0M240.9 277.8h0M222.4 289.9h0M228.0 243.1h0M145.2 289.1h0M217.9 267.4h0M245.6 288.2h0M217.0 306.0h0M253.5 277.5h0M227.3 249.2h0M134.5 275.4h0M218.4 293.8h0M218.0 239.2h0M143.9 277.5h0M168.7 293.0h0M180.8 310.6h0M152.9 316.6h0M165.4 264.2h0M238.8 287.5h0M231.0 276.3h0M248.0 274.2h0M156.5 289.0h0M155.6 315.9h0M225.4 297.5h0M199.4 339.1h0M217.5 305.6h0M235.0 291.6h0M217.6 254.9h0M182.2 307.2h0M144.7 306.4h0M212.8 299.9h0M249.1 294.1h0M183.3 302.8h0M151.8 310.7h0M182.8 295.1h0M141.5 301.2h0M219.1 280.4h0M162.2 294.5h0M168.8 290.7h0M227.9 289.2h0M171.3 288.5h0M244.9 291.5h0M118.7 292.7h0M217.6 295.7h0M253.3 310.7h0M251.2 290.5h0M253.5 289.9h0M220.5 268.4h0M236.7 300.9h0M232.0 267.3h0M223.2 247.7h0M218.5 261.3h0M237.0 292.1h0M219.1 268.2h0M209.4 305.9h0M233.8 256.7h0M135.5 277.8h0M215.5 280.1h0M158.1 300.3h0M166.1 294.9h0M144.8 309.9h0M216.8 304.3h0M215.6 280.9h0M156.4 303.1h0M143.5 315.1h0M223.4 269.6h0M158.4 291.0h0M166.4 309.0h0M239.6 277.0h0M139.4 277.7h0M148.4 290.6h0M177.1 280.2h0M152.3 293.6h0M222.3 307.8h0M155.4 290.1h0M253.3 280.6h0M188.0 316.7h0M152.0 307.7h0M247.4 286.4h0M222.5 276.5h0M226.3 247.9h0M221.4 242.5h0M210.9 315.9h0M189.3 319.9h0M232.5 312.4h0M251.6 283.4h0M143.2 300.2h0M222.8 254.3h0M155.8 301.0h0M158.4 287.4h0M173.4 271.1h0M219.6 270.0h0M143.8 307.2h0M241.1 314.8h0M145.3 301.7h0M237.3 282.2h0M219.6 260.8h0M170.7 286.9h0M167.9 306.9h0M240.9 293.6h0M189.6 339.0h0M227.8 297.6h0M177.3 296.5h0M223.6 279.3h0M143.2 290.5h0M152.0 288.1h0M169.7 295.6h0M143.8 284.3h0M177.1 303.8h0M220.1 262.6h0M243.0 292.8h0M175.8 291.3h0M135.7 312.8h0M208.7 307.4h0M225.0 243.9h0M190.6 323.7h0M147.0 291.6h0M175.3 298.9h0M171.5 293.3h0M241.6 304.1h0M241.2 311.0h0M168.1 253.5h0M204.1 322.9h0M255.6 297.8h0M224.1 273.6h0M154.2 316.4h0M250.5 308.6h0M184.8 313.5h0M146.0 291.5h0M172.9 312.3h0M170.6 301.5h0M218.8 244.7h0M226.1 274.0h0M170.4 306.0h0M161.3 306.9h0M143.3 288.4h0M217.0 277.5h0M239.7 278.4h0M249.7 285.7h0M175.0 338.8h0M153.7 302.9h0M226.3 266.2h0M239.3 288.4h0M176.9 297.3h0M183.0 302.8h0M147.2 294.6h0M229.6 325.3h0M167.5 298.0h0M229.8 292.6h0M150.2 301.8h0M179.9 292.4h0M244.9 302.5h0M212.8 305.6h0M233.1 279.2h0M166.3 300.4h0M219.2 234.2h0M198.7 333.8h0M180.6 283.2h0M213.9 288.3h0M216.0 282.2h0M161.8 282.7h0M214.5 303.4h0M165.8 308.0h0M246.8 297.4h0M228.7 276.2h0M217.5 262.2h0M215.9 273.0h0M161.5 281.4h0M215.9 281.4h0M153.2 282.3h0M230.5 275.5h0M243.6 314.0h0M251.8 282.1h0M170.8 244.8h0M217.4 284.0h0M182.2 293.7h0M223.2 247.2h0M243.2 307.8h0M161.0 313.3h0M217.1 267.8h0M232.9 274.5h0M249.3 278.4h0M226.4 253.2h0M163.9 306.9h0M158.0 288.8h0M228.5 244.2h0M176.0 288.6h0M208.3 338.8h0M222.8 277.5h0M173.2 338.5h0M218.8 333.0h0M231.3 282.7h0M237.1 269.3h0M170.8 297.9h0M185.9 312.8h0M247.1 278.9h0M173.7 307.9h0M226.7 310.1h0M239.2 292.3h0M219.1 222.6h0M226.9 293.5h0M228.2 277.3h0M221.0 234.5h0M232.5 292.8h0M237.6 285.3h0M174.4 290.0h0M181.6 304.2h0M165.0 304.5h0M164.7 333.9h0M248.6 289.0h0M215.1 282.8h0M181.4 304.3h0M163.5 282.9h0M221.4 330.9h0M242.5 293.7h0M228.8 267.3h0M219.9 213.6h0M225.5 274.5h0M174.0 273.8h0M237.7 299.7h0M228.5 263.8h0M224.3 280.3h0M192.8 331.3h0M137.3 294.5h0M222.5 291.6h0M170.5 292.0h0M223.1 258.4h0M146.3 285.7h0M244.2 285.2h0M160.7 262.1h0M245.2 294.9h0M162.1 272.9h0M151.3 308.9h0M159.9 284.4h0M214.6 306.2h0M232.8 297.6h0M230.5 296.4h0M170.7 300.5h0M223.8 231.8h0M236.1 289.3h0M236.0 281.8h0M233.7 287.1h0M215.4 286.0h0M189.3 321.5h0M164.2 253.5h0M226.8 243.0h0M221.2 254.2h0M218.4 246.1h0M142.1 287.9h0M217.6 294.9h0M168.4 253.8h0M209.2 306.1h0M166.2 334.4h0M225.3 277.9h0M235.1 273.9h0M228.2 296.7h0M140.9 280.5h0M213.5 295.0h0M217.6 282.7h0M229.3 288.3h0M227.5 255.6h0M223.7 252.3h0M246.3 300.4h0M149.8 279.6h0M235.0 319.8h0M168.9 302.0h0M219.1 218.8h0M141.7 294.0h0M243.4 282.4h0M157.4 292.3h0M238.6 280.5h0M219.6 222.5h0M244.5 276.5h0M216.6 296.7h0M175.1 261.5h0M240.5 272.9h0M228.4 293.4h0M222.0 289.6h0M133.9 298.2h0M227.1 249.0h0M218.2 265.2h0M148.9 295.9h0M235.5 301.7h0M176.3 295.8h0M227.6 258.2h0M214.9 305.2h0M225.7 260.1h0M161.8 285.9h0M213.9 290.1h0M179.6 299.6h0M164.1 253.1h0M158.6 256.6h0M143.6 299.0h0M181.2 285.1h0M244.5 277.5h0M180.2 306.5h0M180.6 303.6h0M234.2 298.8h0M137.7 304.4h0M148.7 306.5h0M214.0 335.8h0M182.9 313.8h0M178.8 299.0h0M228.8 326.0h0M219.0 245.7h0M238.5 275.6h0M157.7 280.2h0M174.1 293.2h0M219.8 218.9h0M159.6 298.4h0M164.2 286.2h0M151.7 283.6h0M242.7 272.5h0M174.0 310.7h0M242.7 294.2h0M237.7 291.9h0M223.8 280.7h0M219.8 231.4h0M148.9 289.5h0M210.7 299.6h0M139.5 307.7h0M242.4 315.5h0M246.9 306.7h0M226.9 309.0h0M183.4 302.4h0M185.0 307.6h0M211.1 314.7h0M240.8 284.3h0M182.0 300.8h0M229.2 296.0h0M164.9 243.2h0M222.4 254.5h0M174.8 301.0h0M244.9 293.0h0M248.6 309.0h0M160.1 263.3h0M153.8 281.5h0M151.4 301.6h0M220.2 247.0h0M210.6 316.0h0M227.0 292.7h0M154.5 280.3h0M224.4 294.8h0M225.4 235.1h0M147.9 315.2h0M230.2 287.0h0M245.9 281.5h0M146.3 292.3h0M241.6 315.1h0M150.2 304.1h0M174.8 278.6h0M241.2 280.6h0M232.3 265.7h0M235.7 282.5h0M225.9 296.8h0M179.2 284.8h0M146.5 289.5h0M226.9 281.7h0M167.0 254.2h0M176.5 275.7h0M177.3 295.8h0M180.2 286.8h0M236.0 276.3h0M225.6 268.8h0M220.2 233.1h0M228.4 287.8h0M193.7 333.0h0M151.8 304.5h0M160.8 300.3h0M166.9 285.8h0M165.7 334.4h0M165.2 258.3h0M244.5 290.4h0M219.8 288.7h0M164.3 283.4h0M228.6 295.1h0M247.2 294.9h0M237.9 280.8h0M213.9 285.5h0M177.5 277.4h0M233.1 267.5h0M252.9 294.3h0M224.6 246.6h0M174.3 339.0h0M176.1 284.4h0M151.3 307.3h0M257.1 297.5h0M251.9 303.7h0M163.2 264.9h0M236.5 270.4h0M140.5 297.3h0M222.6 306.8h0M152.6 286.0h0M163.0 294.4h0M228.8 265.1h0M242.2 274.3h0M220.8 331.9h0M223.3 291.5h0M169.2 277.0h0M224.5 285.2h0M243.1 284.0h0M166.3 290.1h0M183.1 338.8h0M235.1 295.8h0M234.3 257.8h0M214.7 301.3h0M231.1 283.6h0M228.5 258.9h0M138.4 297.5h0M218.3 333.3h0M245.4 288.9h0M169.3 278.9h0M182.3 298.8h0M173.0 291.4h0M233.4 285.1h0M245.1 303.6h0M245.9 276.8h0M136.2 277.3h0M167.3 278.7h0M210.9 337.4h0M187.1 314.1h0M228.3 326.3h0M131.6 307.2h0M225.8 275.4h0M166.7 286.2h0M222.3 331.1h0M171.0 276.9h0M212.9 293.9h0M145.4 315.3h0M223.8 238.4h0M164.7 294.8h0M253.3 276.3h0M224.8 269.9h0M181.6 303.4h0M143.0 273.1h0M122.5 286.9h0M220.6 287.7h0M244.2 305.7h0M157.5 284.4h0M252.3 299.9h0M177.4 295.6h0M218.3 271.0h0M222.2 219.3h0M160.4 284.8h0M218.9 217.4h0M176.5 287.9h0M243.2 312.8h0M134.5 301.9h0M221.7 272.2h0M163.0 332.8h0M246.7 299.4h0M221.8 284.2h0M176.9 291.7h0M178.0 304.6h0M150.7 300.8h0M221.5 275.7h0M141.4 301.8h0M228.2 295.0h0M169.1 255.9h0M249.0 306.3h0M167.6 246.7h0M219.5 226.0h0M154.5 325.9h0M144.2 304.6h0M234.6 274.2h0M225.2 293.6h0M254.6 296.5h0M159.5 294.1h0M132.8 276.3h0M144.5 284.0h0M135.9 308.7h0M195.5 338.8h0M194.1 334.0h0M250.0 274.2h0M238.6 274.2h0M170.4 299.1h0M172.5 279.4h0M170.3 282.0h0M218.4 231.8h0M164.4 281.1h0M223.5 241.8h0M164.6 293.5h0M227.1 284.3h0M233.8 258.4h0M229.0 283.6h0M217.0 288.7h0M222.9 275.8h0M229.1 259.8h0M213.0 291.5h0M149.1 271.6h0M229.6 267.1h0M172.2 301.5h0M170.9 272.1h0M191.9 327.5h0M156.1 279.8h0M148.6 276.5h0M231.2 286.5h0M222.6 230.1h0M145.5 271.3h0M247.1 283.6h0M148.7 296.2h0M216.4 296.8h0M140.8 279.4h0M177.4 338.8h0M144.3 309.3h0M213.3 298.2h0M250.9 277.4h0M162.7 302.8h0M179.5 293.0h0M218.1 247.7h0M221.2 223.7h0M206.5 315.6h0M236.5 266.7h0M138.8 303.7h0M221.5 256.9h0M247.3 298.0h0M213.5 287.0h0M156.0 302.2h0M240.0 274.5h0M225.5 251.2h0M250.2 271.1h0M241.4 291.3h0M215.5 294.9h0M249.2 271.9h0M220.6 228.5h0M137.5 293.8h0M216.6 334.3h0M247.9 279.9h0M237.4 272.1h0M224.9 292.2h0M236.3 278.0h0M146.5 285.2h0M243.0 287.6h0M223.9 230.2h0M157.2 328.3h0M220.9 239.1h0M156.9 299.1h0M219.0 217.0h0M207.7 311.9h0M244.5 288.4h0M167.3 263.1h0M182.0 292.0h0M155.9 273.7h0M224.4 254.5h0M189.8 322.0h0M172.2 299.4h0M218.8 333.3h0M233.6 302.0h0M219.4 242.0h0M166.9 293.3h0M180.4 309.6h0M222.6 277.8h0M122.7 299.6h0M236.1 259.0h0M148.5 318.0h0M136.7 307.1h0M167.5 277.2h0M179.0 297.4h0M220.0 281.3h0M181.8 290.3h0M186.0 310.2h0M164.5 271.3h0M177.2 258.5h0M233.8 300.2h0M225.1 260.1h0M180.9 302.8h0M225.7 241.7h0M242.0 282.2h0M222.1 237.1h0M232.2 323.0h0M230.5 253.9h0M216.2 297.1h0M179.9 302.6h0M228.3 250.1h0M148.3 282.2h0M169.9 290.0h0M226.4 278.2h0M218.8 257.6h0M177.9 277.8h0M222.9 270.8h0M149.5 308.1h0M217.9 275.9h0M153.2 283.0h0M222.8 265.8h0M171.1 297.6h0M157.4 292.9h0M129.6 278.3h0M156.0 277.3h0M161.8 277.2h0M153.3 286.7h0M226.2 280.8h0M239.0 278.1h0M218.7 288.0h0M254.3 277.9h0M237.9 271.1h0M148.7 296.6h0M220.1 297.2h0M213.9 294.9h0M226.0 236.1h0M235.3 268.2h0M172.8 261.1h0M170.4 288.3h0M154.0 288.4h0M160.0 251.3h0M247.4 293.6h0M254.8 283.9h0M215.4 270.4h0M214.6 293.9h0M152.9 300.6h0M219.3 273.9h0M156.8 295.5h0M251.3 278.7h0M173.9 257.3h0M229.4 259.6h0M213.1 289.8h0M200.1 331.2h0M173.0 300.6h0M253.1 297.6h0M206.6 315.9h0M175.5 244.1h0M172.2 308.8h0M219.3 216.4h0M228.6 278.1h0M170.1 282.3h0M258.3 293.5h0M247.0 308.3h0M173.6 300.4h0M181.5 298.7h0M218.6 241.6h0M183.8 303.7h0M203.5 323.7h0M220.5 223.5h0M214.4 294.8h0M145.7 285.6h0M152.8 273.2h0M228.9 265.8h0M221.0 268.6h0M158.6 281.4h0M225.0 267.9h0M182.8 295.4h0M149.0 286.2h0M224.6 255.1h0M219.3 220.7h0M246.9 272.0h0M165.0 259.8h0M140.9 287.3h0M224.1 249.4h0M234.2 282.4h0M249.6 285.9h0M233.0 283.7h0M171.6 261.2h0M249.1 277.6h0M173.1 273.4h0M158.9 255.5h0M160.2 278.8h0M210.3 303.9h0M218.2 238.3h0M233.6 321.6h0M220.8 232.2h0M147.3 286.4h0M177.6 287.3h0M175.0 279.7h0M147.1 288.7h0M147.1 287.5h0M229.9 247.0h0M237.3 288.5h0M150.2 283.3h0M156.2 295.2h0M171.7 288.2h0M137.5 306.1h0M147.3 297.8h0M231.6 268.5h0M136.5 293.5h0M157.1 276.1h0M170.0 283.7h0M226.6 288.1h0M218.5 240.3h0M227.7 294.3h0M221.3 280.6h0M225.9 237.6h0M263.7 285.4h0M221.0 270.4h0M220.7 257.3h0M243.2 287.2h0M231.5 280.6h0M214.1 296.2h0M181.3 297.1h0M220.3 246.2h0M242.6 309.0h0M215.9 335.0h0M175.3 284.7h0M221.1 282.0h0M229.0 287.6h0M171.6 279.9h0M218.4 288.3h0M224.4 240.9h0M214.9 335.3h0M239.3 281.0h0M171.0 273.5h0M193.0 331.2h0M227.9 267.6h0M191.3 325.8h0M237.9 275.6h0M228.5 280.6h0M219.9 278.1h0M226.5 268.5h0M135.1 279.6h0M241.1 287.3h0M237.7 262.5h0M162.1 298.0h0M251.8 280.6h0M231.5 263.8h0M244.4 282.7h0M218.6 289.9h0M223.2 282.4h0M163.5 253.0h0M243.3 279.1h0M178.2 281.1h0M214.5 282.9h0M169.1 336.3h0M221.0 280.0h0M140.6 300.2h0M170.5 242.2h0M224.0 274.4h0M169.3 288.0h0M150.4 281.9h0M222.9 255.2h0M244.1 270.5h0M227.8 264.6h0M245.5 301.9h0M147.2 315.2h0M133.8 304.4h0M239.0 288.6h0M156.5 281.8h0M243.8 280.3h0M243.8 307.6h0M142.8 292.7h0M169.0 287.5h0M198.0 335.2h0M161.2 292.5h0M174.2 339.0h0M217.2 276.7h0M242.9 309.5h0M161.8 267.1h0M219.6 237.0h0M184.5 305.5h0M217.7 292.5h0M164.8 289.1h0M122.2 303.7h0M166.1 276.7h0M188.9 318.8h0M249.2 300.1h0M246.1 308.5h0M152.5 323.8h0M212.7 291.5h0M224.7 286.6h0M145.9 312.5h0M166.6 334.8h0M171.9 238.5h0M233.7 271.1h0M226.7 327.8h0M235.6 256.7h0M173.5 251.6h0M248.7 300.0h0M238.9 273.2h0M213.7 288.0h0M230.8 277.9h0M183.2 300.5h0M237.3 282.8h0M172.2 287.9h0M224.1 287.0h0M227.2 269.2h0M217.4 262.9h0M179.0 294.4h0M175.0 300.2h0M228.5 286.2h0M168.7 259.3h0M162.2 287.3h0M224.3 267.9h0M171.5 290.7h0M158.7 278.7h0M222.5 256.7h0M173.7 296.9h0M180.3 277.6h0M229.4 254.8h0M212.4 292.5h0M250.8 272.5h0M253.2 300.8h0M219.8 276.7h0M166.6 290.4h0M187.0 312.8h0M244.5 305.5h0M171.0 285.7h0M236.1 297.6h0M223.0 261.5h0M247.2 292.3h0M158.0 303.2h0M228.9 249.5h0M149.6 288.8h0M188.1 316.8h0M235.3 279.2h0M253.0 290.9h0M217.4 251.4h0M223.3 330.3h0M220.0 222.2h0M206.1 316.7h0M216.8 266.6h0M226.6 291.6h0M205.7 317.8h0M219.7 252.4h0M226.4 294.4h0M150.0 271.4h0M201.0 329.1h0M229.2 181.5h0M167.0 188.3h0M167.5 193.2h0M156.4 204.2h0M170.8 207.7h0M224.7 199.1h0M224.1 208.1h0M227.3 209.8h0M234.9 208.1h0M224.5 214.4h0M223.8 218.3h0M220.9 221.7h0M228.8 219.8h0M226.0 223.0h0M167.5 229.4h0M157.9 231.3h0M170.4 239.6h0M171.7 243.4h0M167.2 247.9h0M236.8 230.0h0M234.9 238.3h0M233.0 245.4h0M230.2 241.5h0" stroke="#bebebe" stroke-width="3.2" stroke-linecap="round" fill="none"/><path d="M80.2 87.5h0M108.5 183.7h0M133.5 194.7h0M128.7 202.5h0M111.1 206.8h0M123.1 209.8h0M131.3 226.7h0M141.4 226.7h0M109.4 234.8h0M113.2 234.8h0M125.7 236.2h0M128.7 235.1h0M125.3 238.4h0M139.9 234.3h0M144.2 232.8h0M136.6 238.7h0M130.6 240.5h0M144.4 239.8h0M146.1 241.2h0M149.5 242.1h0M114.1 243.1h0M129.5 244.0h0M133.0 243.5h0M141.8 244.0h0M144.4 244.6h0M116.6 249.1h0M132.3 249.7h0M136.2 249.7h0M138.8 247.6h0M142.2 249.4h0M134.3 253.9h0M139.4 255.0h0M141.8 254.1h0M145.0 254.1h0M149.2 253.9h0M147.0 256.4h0M134.3 256.9h0M142.7 258.6h0M149.5 259.2h0M151.7 259.2h0M102.3 260.6h0M119.2 258.6h0M130.6 259.7h0M133.2 259.2h0M137.1 261.4h0M139.0 260.9h0M143.8 260.3h0M150.0 260.3h0M116.9 262.9h0M122.5 264.2h0M129.8 264.0h0M135.4 264.6h0M143.8 265.4h0M147.2 263.1h0M149.5 266.3h0M111.7 265.7h0M111.3 267.6h0M138.2 268.2h0M139.4 269.6h0" stroke="#3e64d8" stroke-width="3.6" stroke-linecap="round" fill="none"/><path d="M339.9 115.3h0M305.7 137.7h0M299.3 188.2h0M238.8 191.9h0M248.7 189.7h0M272.8 197.8h0M291.0 201.1h0M292.1 208.0h0M263.4 209.7h0M270.1 213.2h0M262.2 220.5h0M281.5 223.3h0M293.6 222.0h0M240.1 233.2h0M242.9 232.3h0M251.7 235.4h0M255.7 235.1h0M259.8 236.0h0M260.3 237.8h0M265.3 236.5h0M269.0 235.6h0M272.6 239.3h0M274.5 238.7h0M279.2 237.8h0M240.7 243.3h0M244.3 244.3h0M248.4 244.3h0M250.2 242.4h0M252.0 241.9h0M239.6 247.9h0M240.1 249.2h0M267.7 248.5h0M292.5 247.9h0M244.7 252.5h0M242.9 256.2h0M269.0 256.6h0M275.9 257.7h0M275.9 259.9h0M241.0 259.9h0M245.6 258.9h0M248.4 259.9h0M255.7 259.5h0M260.9 259.9h0M266.4 260.8h0M239.2 261.7h0M243.8 262.6h0M250.2 263.2h0M238.3 266.3h0M241.0 267.2h0M244.7 266.3h0M248.4 265.4h0M252.0 266.3h0M273.2 265.8h0M276.9 265.4h0M255.7 268.7h0M260.9 269.4h0M275.9 268.7h0M240.1 268.1h0M246.5 264.5h0M242.9 264.5h0M243.4 254.3h0M243.0 257.6h0M246.3 260.9h0M247.5 263.3h0M244.2 262.5h0M241.8 266.6h0M250.3 266.6h0M252.4 265.0h0M249.9 259.3h0M242.6 260.9h0" stroke="#dca01e" stroke-width="3.6" stroke-linecap="round" fill="none"/><path d="M29.5 62.2V352.2H362.1" stroke="#333" stroke-width="1.3" fill="none"/><path d="M25.2 339.2H29.5M25.2 285.8H29.5M25.2 232.4H29.5M25.2 179.0H29.5M25.2 125.6H29.5M25.2 72.2H29.5M111.4 352.2v3.6M195.8 352.2v3.6M280.2 352.2v3.6" stroke="#333" stroke-width="1.2" fill="none"/><text x="22.3" y="342.3" font-family='"Liberation Mono", monospace' font-size="9.6" fill="#4d4d4d" text-anchor="end">0</text><text x="22.3" y="288.9" font-family='"Liberation Mono", monospace' font-size="9.6" fill="#4d4d4d" text-anchor="end">1</text><text x="22.3" y="235.5" font-family='"Liberation Mono", monospace' font-size="9.6" fill="#4d4d4d" text-anchor="end">2</text><text x="22.3" y="182.1" font-family='"Liberation Mono", monospace' font-size="9.6" fill="#4d4d4d" text-anchor="end">3</text><text x="22.3" y="128.7" font-family='"Liberation Mono", monospace' font-size="9.6" fill="#4d4d4d" text-anchor="end">4</text><text x="22.3" y="75.3" font-family='"Liberation Mono", monospace' font-size="9.6" fill="#4d4d4d" text-anchor="end">5</text><text x="111.4" y="365.5" font-family='"Liberation Mono", monospace' font-size="9.6" fill="#4d4d4d" text-anchor="middle">-2</text><text x="195.8" y="365.5" font-family='"Liberation Mono", monospace' font-size="9.6" fill="#4d4d4d" text-anchor="middle">0</text><text x="280.2" y="365.5" font-family='"Liberation Mono", monospace' font-size="9.6" fill="#4d4d4d" text-anchor="middle">2</text><text x="149.2" y="378.8" font-family='"Liberation Mono", monospace' font-size="10" fill="#222">log<tspan font-size="7" dy="2">2</tspan><tspan dy="-2"> fold change</tspan></text><text transform="translate(9.0 259) rotate(-90)" font-family='"Liberation Mono", monospace' font-size="10.6" fill="#222">-log<tspan font-size="7" dy="2">10</tspan><tspan dy="-2">raw.p-value</tspan></text><circle cx="232.5" cy="25.3" r="1.5" fill="#dca01e"/><circle cx="232.5" cy="44.3" r="1.5" fill="#3e64d8"/><text x="248.4" y="28.6" font-family='"Liberation Mono", monospace' font-size="9.5" fill="#333">FC&gt;=2 &amp; raw.p&lt;0.05</text><text x="248.4" y="47.6" font-family='"Liberation Mono", monospace' font-size="9.5" fill="#333">FC&lt;=-2 &amp; raw.p&lt;0.05</text><defs><clipPath id="hc"><rect x="499.4" y="115.0" width="283.0" height="235.4"/></clipPath><filter id="hb" x="-0.05" y="-0.05" width="1.1" height="1.1"><feGaussianBlur stdDeviation="0.4 0.7"/></filter></defs><g clip-path="url(#hc)"><g filter="url(#hb)" shape-rendering="crispEdges"><rect x="496.4" y="112.00" width="50.5" height="4.89" fill="#5555ab"/><rect x="496.4" y="116.59" width="50.5" height="1.89" fill="#2323dc"/><rect x="496.4" y="118.18" width="50.5" height="1.89" fill="#4343bc"/><rect x="496.4" y="119.77" width="50.5" height="1.89" fill="#6f6f91"/><rect x="496.4" y="121.36" width="50.5" height="1.89" fill="#707090"/><rect x="496.4" y="122.95" width="50.5" height="1.89" fill="#73738d"/><rect x="496.4" y="124.54" width="50.5" height="1.89" fill="#5f5fa1"/><rect x="496.4" y="126.13" width="50.5" height="1.89" fill="#73738d"/><rect x="496.4" y="127.72" width="50.5" height="1.89" fill="#6c6c94"/><rect x="496.4" y="129.31" width="50.5" height="1.89" fill="#a3a35c"/><rect x="496.4" y="130.91" width="50.5" height="1.89" fill="#787888"/><rect x="496.4" y="132.50" width="50.5" height="1.89" fill="#71718f"/><rect x="496.4" y="134.09" width="50.5" height="1.89" fill="#72728e"/><rect x="496.4" y="135.68" width="50.5" height="1.89" fill="#94946c"/><rect x="496.4" y="137.27" width="50.5" height="1.89" fill="#8e8e71"/><rect x="496.4" y="138.86" width="50.5" height="1.89" fill="#999967"/><rect x="496.4" y="140.45" width="50.5" height="1.89" fill="#6a6a96"/><rect x="496.4" y="142.04" width="50.5" height="1.89" fill="#62629e"/><rect x="496.4" y="143.63" width="50.5" height="1.89" fill="#6f6f91"/><rect x="496.4" y="145.22" width="50.5" height="1.89" fill="#5252ad"/><rect x="496.4" y="146.81" width="50.5" height="1.89" fill="#5555ab"/><rect x="496.4" y="148.40" width="50.5" height="1.89" fill="#65659a"/><rect x="496.4" y="149.99" width="50.5" height="1.89" fill="#5a5aa5"/><rect x="496.4" y="151.58" width="50.5" height="1.89" fill="#4f4fb1"/><rect x="496.4" y="153.17" width="50.5" height="1.89" fill="#5252ad"/><rect x="496.4" y="154.76" width="50.5" height="1.89" fill="#888878"/><rect x="496.4" y="156.35" width="50.5" height="1.89" fill="#9d9d62"/><rect x="496.4" y="157.94" width="50.5" height="1.89" fill="#7d7d83"/><rect x="496.4" y="159.54" width="50.5" height="1.89" fill="#7d7d83"/><rect x="496.4" y="161.13" width="50.5" height="1.89" fill="#65659b"/><rect x="496.4" y="162.72" width="50.5" height="1.89" fill="#5050af"/><rect x="496.4" y="164.31" width="50.5" height="1.89" fill="#5757a9"/><rect x="496.4" y="165.90" width="50.5" height="1.89" fill="#bbbb44"/><rect x="496.4" y="167.49" width="50.5" height="1.89" fill="#b7b749"/><rect x="496.4" y="169.08" width="50.5" height="1.89" fill="#2a2ad5"/><rect x="496.4" y="170.67" width="50.5" height="1.89" fill="#3030cf"/><rect x="496.4" y="172.26" width="50.5" height="1.89" fill="#0a0af5"/><rect x="496.4" y="173.85" width="50.5" height="1.89" fill="#808080"/><rect x="496.4" y="175.44" width="50.5" height="1.89" fill="#2f2fd1"/><rect x="496.4" y="177.03" width="50.5" height="1.89" fill="#2727d8"/><rect x="496.4" y="178.62" width="50.5" height="1.89" fill="#3c3cc3"/><rect x="496.4" y="180.21" width="50.5" height="1.89" fill="#676799"/><rect x="496.4" y="181.80" width="50.5" height="1.89" fill="#5b5ba5"/><rect x="496.4" y="183.39" width="50.5" height="1.89" fill="#2323dd"/><rect x="496.4" y="184.98" width="50.5" height="1.89" fill="#2f2fd1"/><rect x="496.4" y="186.57" width="50.5" height="1.89" fill="#2e2ed2"/><rect x="496.4" y="188.16" width="50.5" height="1.89" fill="#64649c"/><rect x="496.4" y="189.76" width="50.5" height="1.89" fill="#787888"/><rect x="496.4" y="191.35" width="50.5" height="1.89" fill="#72728e"/><rect x="496.4" y="192.94" width="50.5" height="1.89" fill="#7c7c84"/><rect x="496.4" y="194.53" width="50.5" height="1.89" fill="#6d6d92"/><rect x="496.4" y="196.12" width="50.5" height="1.89" fill="#898977"/><rect x="496.4" y="197.71" width="50.5" height="1.89" fill="#a0a060"/><rect x="496.4" y="199.30" width="50.5" height="1.89" fill="#5b5ba5"/><rect x="496.4" y="200.89" width="50.5" height="1.89" fill="#5252ad"/><rect x="496.4" y="202.48" width="50.5" height="1.89" fill="#4c4cb4"/><rect x="496.4" y="204.07" width="50.5" height="1.89" fill="#aaaa56"/><rect x="496.4" y="205.66" width="50.5" height="1.89" fill="#808080"/><rect x="496.4" y="207.25" width="50.5" height="1.89" fill="#6c6c94"/><rect x="496.4" y="208.84" width="50.5" height="1.89" fill="#6a6a96"/><rect x="496.4" y="210.43" width="50.5" height="1.89" fill="#5353ad"/><rect x="496.4" y="212.02" width="50.5" height="1.89" fill="#65659a"/><rect x="496.4" y="213.61" width="50.5" height="1.89" fill="#2f2fd1"/><rect x="496.4" y="215.20" width="50.5" height="1.89" fill="#4242be"/><rect x="496.4" y="216.79" width="50.5" height="1.89" fill="#2323dc"/><rect x="496.4" y="218.39" width="50.5" height="1.89" fill="#2f2fd0"/><rect x="496.4" y="219.98" width="50.5" height="1.89" fill="#3636c9"/><rect x="496.4" y="221.57" width="50.5" height="1.89" fill="#3b3bc4"/><rect x="496.4" y="223.16" width="50.5" height="1.89" fill="#3838c8"/><rect x="496.4" y="224.75" width="50.5" height="1.89" fill="#4a4ab6"/><rect x="496.4" y="226.34" width="50.5" height="1.89" fill="#5353ad"/><rect x="496.4" y="227.93" width="50.5" height="1.89" fill="#95956b"/><rect x="496.4" y="229.52" width="50.5" height="1.89" fill="#81817f"/><rect x="496.4" y="231.11" width="50.5" height="1.89" fill="#63639d"/><rect x="496.4" y="232.70" width="50.5" height="1.89" fill="#74748c"/><rect x="496.4" y="234.29" width="50.5" height="1.89" fill="#6a6a96"/><rect x="496.4" y="235.88" width="50.5" height="1.89" fill="#86867a"/><rect x="496.4" y="237.47" width="50.5" height="1.89" fill="#75758b"/><rect x="496.4" y="239.06" width="50.5" height="1.89" fill="#5656aa"/><rect x="496.4" y="240.65" width="50.5" height="1.89" fill="#4747b8"/><rect x="496.4" y="242.24" width="50.5" height="1.89" fill="#6c6c94"/><rect x="496.4" y="243.83" width="50.5" height="1.89" fill="#7d7d83"/><rect x="496.4" y="245.42" width="50.5" height="1.89" fill="#7d7d83"/><rect x="496.4" y="247.01" width="50.5" height="1.89" fill="#82827e"/><rect x="496.4" y="248.61" width="50.5" height="1.89" fill="#797987"/><rect x="496.4" y="250.20" width="50.5" height="1.89" fill="#6e6e92"/><rect x="496.4" y="251.79" width="50.5" height="1.89" fill="#6c6c93"/><rect x="496.4" y="253.38" width="50.5" height="1.89" fill="#6c6c93"/><rect x="496.4" y="254.97" width="50.5" height="1.89" fill="#86867a"/><rect x="496.4" y="256.56" width="50.5" height="1.89" fill="#65659b"/><rect x="496.4" y="258.15" width="50.5" height="1.89" fill="#5959a7"/><rect x="496.4" y="259.74" width="50.5" height="1.89" fill="#5c5ca4"/><rect x="496.4" y="261.33" width="50.5" height="1.89" fill="#8b8b75"/><rect x="496.4" y="262.92" width="50.5" height="1.89" fill="#90906f"/><rect x="496.4" y="264.51" width="50.5" height="1.89" fill="#787888"/><rect x="496.4" y="266.10" width="50.5" height="1.89" fill="#73738d"/><rect x="496.4" y="267.69" width="50.5" height="1.89" fill="#888878"/><rect x="496.4" y="269.28" width="50.5" height="1.89" fill="#9a9a66"/><rect x="496.4" y="270.87" width="50.5" height="1.89" fill="#d0d02f"/><rect x="496.4" y="272.46" width="50.5" height="1.89" fill="#c8c838"/><rect x="496.4" y="274.05" width="50.5" height="1.89" fill="#c0c040"/><rect x="496.4" y="275.64" width="50.5" height="1.89" fill="#c9c936"/><rect x="496.4" y="277.24" width="50.5" height="1.89" fill="#84847c"/><rect x="496.4" y="278.83" width="50.5" height="1.89" fill="#94946c"/><rect x="496.4" y="280.42" width="50.5" height="1.89" fill="#a2a25e"/><rect x="496.4" y="282.01" width="50.5" height="1.89" fill="#b0b050"/><rect x="496.4" y="283.60" width="50.5" height="1.89" fill="#acac54"/><rect x="496.4" y="285.19" width="50.5" height="1.89" fill="#b6b64a"/><rect x="496.4" y="286.78" width="50.5" height="1.89" fill="#b1b14e"/><rect x="496.4" y="288.37" width="50.5" height="1.89" fill="#dcdc23"/><rect x="496.4" y="289.96" width="50.5" height="1.89" fill="#cccc33"/><rect x="496.4" y="291.55" width="50.5" height="1.89" fill="#cccc33"/><rect x="496.4" y="293.14" width="50.5" height="1.89" fill="#96966a"/><rect x="496.4" y="294.73" width="50.5" height="1.89" fill="#8a8a76"/><rect x="496.4" y="296.32" width="50.5" height="1.89" fill="#86867a"/><rect x="496.4" y="297.91" width="50.5" height="1.89" fill="#979768"/><rect x="496.4" y="299.50" width="50.5" height="1.89" fill="#72728e"/><rect x="496.4" y="301.09" width="50.5" height="1.89" fill="#a1a15f"/><rect x="496.4" y="302.68" width="50.5" height="1.89" fill="#3535cb"/><rect x="496.4" y="304.27" width="50.5" height="1.89" fill="#1b1be4"/><rect x="496.4" y="305.86" width="50.5" height="1.89" fill="#1e1ee1"/><rect x="496.4" y="307.46" width="50.5" height="1.89" fill="#83837d"/><rect x="496.4" y="309.05" width="50.5" height="1.89" fill="#909070"/><rect x="496.4" y="310.64" width="50.5" height="1.89" fill="#999967"/><rect x="496.4" y="312.23" width="50.5" height="1.89" fill="#7b7b85"/><rect x="496.4" y="313.82" width="50.5" height="1.89" fill="#63639d"/><rect x="496.4" y="315.41" width="50.5" height="1.89" fill="#6d6d93"/><rect x="496.4" y="317.00" width="50.5" height="1.89" fill="#6f6f91"/><rect x="496.4" y="318.59" width="50.5" height="1.89" fill="#808080"/><rect x="496.4" y="320.18" width="50.5" height="1.89" fill="#75758b"/><rect x="496.4" y="321.77" width="50.5" height="1.89" fill="#7c7c84"/><rect x="496.4" y="323.36" width="50.5" height="1.89" fill="#7f7f81"/><rect x="496.4" y="324.95" width="50.5" height="1.89" fill="#4848b8"/><rect x="496.4" y="326.54" width="50.5" height="1.89" fill="#4141bf"/><rect x="496.4" y="328.13" width="50.5" height="1.89" fill="#5a5aa6"/><rect x="496.4" y="329.72" width="50.5" height="1.89" fill="#ffff00"/><rect x="496.4" y="331.31" width="50.5" height="1.89" fill="#ffff00"/><rect x="496.4" y="332.90" width="50.5" height="1.89" fill="#ffff00"/><rect x="496.4" y="334.49" width="50.5" height="1.89" fill="#ffff00"/><rect x="496.4" y="336.09" width="50.5" height="1.89" fill="#ffff00"/><rect x="496.4" y="337.68" width="50.5" height="1.89" fill="#ffff00"/><rect x="496.4" y="339.27" width="50.5" height="1.89" fill="#eaea15"/><rect x="496.4" y="340.86" width="50.5" height="1.89" fill="#ffff00"/><rect x="496.4" y="342.45" width="50.5" height="1.89" fill="#efef11"/><rect x="496.4" y="344.04" width="50.5" height="1.89" fill="#eaea15"/><rect x="496.4" y="345.63" width="50.5" height="1.89" fill="#b3b34d"/><rect x="496.4" y="347.22" width="50.5" height="1.89" fill="#b0b04f"/><rect x="496.4" y="348.81" width="50.5" height="4.89" fill="#cdcd33"/><rect x="546.6" y="112.00" width="47.5" height="4.89" fill="#4848b8"/><rect x="546.6" y="116.59" width="47.5" height="1.89" fill="#65659b"/><rect x="546.6" y="118.18" width="47.5" height="1.89" fill="#686897"/><rect x="546.6" y="119.77" width="47.5" height="1.89" fill="#4040c0"/><rect x="546.6" y="121.36" width="47.5" height="1.89" fill="#4040bf"/><rect x="546.6" y="122.95" width="47.5" height="1.89" fill="#2e2ed1"/><rect x="546.6" y="124.54" width="47.5" height="1.89" fill="#3a3ac6"/><rect x="546.6" y="126.13" width="47.5" height="1.89" fill="#4040c0"/><rect x="546.6" y="127.72" width="47.5" height="1.89" fill="#3636c9"/><rect x="546.6" y="129.31" width="47.5" height="1.89" fill="#3a3ac6"/><rect x="546.6" y="130.91" width="47.5" height="1.89" fill="#3636ca"/><rect x="546.6" y="132.50" width="47.5" height="1.89" fill="#3b3bc4"/><rect x="546.6" y="134.09" width="47.5" height="1.89" fill="#4848b8"/><rect x="546.6" y="135.68" width="47.5" height="1.89" fill="#2525db"/><rect x="546.6" y="137.27" width="47.5" height="1.89" fill="#2727d8"/><rect x="546.6" y="138.86" width="47.5" height="1.89" fill="#3232ce"/><rect x="546.6" y="140.45" width="47.5" height="1.89" fill="#5656aa"/><rect x="546.6" y="142.04" width="47.5" height="1.89" fill="#61619e"/><rect x="546.6" y="143.63" width="47.5" height="1.89" fill="#3838c7"/><rect x="546.6" y="145.22" width="47.5" height="1.89" fill="#5858a7"/><rect x="546.6" y="146.81" width="47.5" height="1.89" fill="#4a4ab6"/><rect x="546.6" y="148.40" width="47.5" height="1.89" fill="#5151af"/><rect x="546.6" y="149.99" width="47.5" height="1.89" fill="#5858a8"/><rect x="546.6" y="151.58" width="47.5" height="1.89" fill="#5b5ba5"/><rect x="546.6" y="153.17" width="47.5" height="1.89" fill="#7b7b85"/><rect x="546.6" y="154.76" width="47.5" height="1.89" fill="#5151af"/><rect x="546.6" y="156.35" width="47.5" height="1.89" fill="#61619f"/><rect x="546.6" y="157.94" width="47.5" height="1.89" fill="#2b2bd4"/><rect x="546.6" y="159.54" width="47.5" height="1.89" fill="#2d2dd2"/><rect x="546.6" y="161.13" width="47.5" height="1.89" fill="#3737c8"/><rect x="546.6" y="162.72" width="47.5" height="1.89" fill="#2828d7"/><rect x="546.6" y="164.31" width="47.5" height="1.89" fill="#4646ba"/><rect x="546.6" y="165.90" width="47.5" height="1.89" fill="#3939c6"/><rect x="546.6" y="167.49" width="47.5" height="1.89" fill="#6c6c94"/><rect x="546.6" y="169.08" width="47.5" height="1.89" fill="#5454ab"/><rect x="546.6" y="170.67" width="47.5" height="1.89" fill="#5050af"/><rect x="546.6" y="172.26" width="47.5" height="1.89" fill="#5656a9"/><rect x="546.6" y="173.85" width="47.5" height="1.89" fill="#5c5ca3"/><rect x="546.6" y="175.44" width="47.5" height="1.89" fill="#a5a55b"/><rect x="546.6" y="177.03" width="47.5" height="1.89" fill="#4e4eb2"/><rect x="546.6" y="178.62" width="47.5" height="1.89" fill="#4949b6"/><rect x="546.6" y="180.21" width="47.5" height="1.89" fill="#5b5ba5"/><rect x="546.6" y="181.80" width="47.5" height="1.89" fill="#686897"/><rect x="546.6" y="183.39" width="47.5" height="1.89" fill="#7b7b85"/><rect x="546.6" y="184.98" width="47.5" height="1.89" fill="#696997"/><rect x="546.6" y="186.57" width="47.5" height="1.89" fill="#65659b"/><rect x="546.6" y="188.16" width="47.5" height="1.89" fill="#686898"/><rect x="546.6" y="189.76" width="47.5" height="1.89" fill="#63639d"/><rect x="546.6" y="191.35" width="47.5" height="1.89" fill="#4b4bb4"/><rect x="546.6" y="192.94" width="47.5" height="1.89" fill="#75758a"/><rect x="546.6" y="194.53" width="47.5" height="1.89" fill="#6c6c94"/><rect x="546.6" y="196.12" width="47.5" height="1.89" fill="#61619f"/><rect x="546.6" y="197.71" width="47.5" height="1.89" fill="#6c6c94"/><rect x="546.6" y="199.30" width="47.5" height="1.89" fill="#5d5da3"/><rect x="546.6" y="200.89" width="47.5" height="1.89" fill="#3131cf"/><rect x="546.6" y="202.48" width="47.5" height="1.89" fill="#2b2bd4"/><rect x="546.6" y="204.07" width="47.5" height="1.89" fill="#3333cd"/><rect x="546.6" y="205.66" width="47.5" height="1.89" fill="#4c4cb3"/><rect x="546.6" y="207.25" width="47.5" height="1.89" fill="#3131ce"/><rect x="546.6" y="208.84" width="47.5" height="1.89" fill="#4b4bb4"/><rect x="546.6" y="210.43" width="47.5" height="1.89" fill="#4444bc"/><rect x="546.6" y="212.02" width="47.5" height="1.89" fill="#61619f"/><rect x="546.6" y="213.61" width="47.5" height="1.89" fill="#5454ac"/><rect x="546.6" y="215.20" width="47.5" height="1.89" fill="#4c4cb4"/><rect x="546.6" y="216.79" width="47.5" height="1.89" fill="#5858a7"/><rect x="546.6" y="218.39" width="47.5" height="1.89" fill="#adad53"/><rect x="546.6" y="219.98" width="47.5" height="1.89" fill="#b3b34d"/><rect x="546.6" y="221.57" width="47.5" height="1.89" fill="#b6b64a"/><rect x="546.6" y="223.16" width="47.5" height="1.89" fill="#74748c"/><rect x="546.6" y="224.75" width="47.5" height="1.89" fill="#73738d"/><rect x="546.6" y="226.34" width="47.5" height="1.89" fill="#6c6c94"/><rect x="546.6" y="227.93" width="47.5" height="1.89" fill="#2727d8"/><rect x="546.6" y="229.52" width="47.5" height="1.89" fill="#1212ed"/><rect x="546.6" y="231.11" width="47.5" height="1.89" fill="#2727d8"/><rect x="546.6" y="232.70" width="47.5" height="1.89" fill="#1c1ce3"/><rect x="546.6" y="234.29" width="47.5" height="1.89" fill="#5656aa"/><rect x="546.6" y="235.88" width="47.5" height="1.89" fill="#5757a8"/><rect x="546.6" y="237.47" width="47.5" height="1.89" fill="#3434cb"/><rect x="546.6" y="239.06" width="47.5" height="1.89" fill="#4b4bb4"/><rect x="546.6" y="240.65" width="47.5" height="1.89" fill="#4848b7"/><rect x="546.6" y="242.24" width="47.5" height="1.89" fill="#3e3ec1"/><rect x="546.6" y="243.83" width="47.5" height="1.89" fill="#7b7b85"/><rect x="546.6" y="245.42" width="47.5" height="1.89" fill="#707090"/><rect x="546.6" y="247.01" width="47.5" height="1.89" fill="#a2a25e"/><rect x="546.6" y="248.61" width="47.5" height="1.89" fill="#b9b947"/><rect x="546.6" y="250.20" width="47.5" height="1.89" fill="#bbbb45"/><rect x="546.6" y="251.79" width="47.5" height="1.89" fill="#bfbf41"/><rect x="546.6" y="253.38" width="47.5" height="1.89" fill="#aaaa55"/><rect x="546.6" y="254.97" width="47.5" height="1.89" fill="#c6c639"/><rect x="546.6" y="256.56" width="47.5" height="1.89" fill="#c8c837"/><rect x="546.6" y="258.15" width="47.5" height="1.89" fill="#95956b"/><rect x="546.6" y="259.74" width="47.5" height="1.89" fill="#9c9c64"/><rect x="546.6" y="261.33" width="47.5" height="1.89" fill="#a5a55b"/><rect x="546.6" y="262.92" width="47.5" height="1.89" fill="#9d9d62"/><rect x="546.6" y="264.51" width="47.5" height="1.89" fill="#9b9b65"/><rect x="546.6" y="266.10" width="47.5" height="1.89" fill="#83837d"/><rect x="546.6" y="267.69" width="47.5" height="1.89" fill="#75758b"/><rect x="546.6" y="269.28" width="47.5" height="1.89" fill="#5151ae"/><rect x="546.6" y="270.87" width="47.5" height="1.89" fill="#5959a6"/><rect x="546.6" y="272.46" width="47.5" height="1.89" fill="#73738d"/><rect x="546.6" y="274.05" width="47.5" height="1.89" fill="#9c9c64"/><rect x="546.6" y="275.64" width="47.5" height="1.89" fill="#a0a05f"/><rect x="546.6" y="277.24" width="47.5" height="1.89" fill="#a6a659"/><rect x="546.6" y="278.83" width="47.5" height="1.89" fill="#808080"/><rect x="546.6" y="280.42" width="47.5" height="1.89" fill="#a3a35d"/><rect x="546.6" y="282.01" width="47.5" height="1.89" fill="#7a7a86"/><rect x="546.6" y="283.60" width="47.5" height="1.89" fill="#aaaa56"/><rect x="546.6" y="285.19" width="47.5" height="1.89" fill="#a1a15f"/><rect x="546.6" y="286.78" width="47.5" height="1.89" fill="#a8a858"/><rect x="546.6" y="288.37" width="47.5" height="1.89" fill="#8d8d73"/><rect x="546.6" y="289.96" width="47.5" height="1.89" fill="#73738d"/><rect x="546.6" y="291.55" width="47.5" height="1.89" fill="#5e5ea2"/><rect x="546.6" y="293.14" width="47.5" height="1.89" fill="#6060a0"/><rect x="546.6" y="294.73" width="47.5" height="1.89" fill="#898977"/><rect x="546.6" y="296.32" width="47.5" height="1.89" fill="#8c8c74"/><rect x="546.6" y="297.91" width="47.5" height="1.89" fill="#9f9f60"/><rect x="546.6" y="299.50" width="47.5" height="1.89" fill="#d4d42c"/><rect x="546.6" y="301.09" width="47.5" height="1.89" fill="#aaaa56"/><rect x="546.6" y="302.68" width="47.5" height="1.89" fill="#b1b14f"/><rect x="546.6" y="304.27" width="47.5" height="1.89" fill="#a9a956"/><rect x="546.6" y="305.86" width="47.5" height="1.89" fill="#9f9f61"/><rect x="546.6" y="307.46" width="47.5" height="1.89" fill="#abab54"/><rect x="546.6" y="309.05" width="47.5" height="1.89" fill="#a8a858"/><rect x="546.6" y="310.64" width="47.5" height="1.89" fill="#cbcb35"/><rect x="546.6" y="312.23" width="47.5" height="1.89" fill="#d7d728"/><rect x="546.6" y="313.82" width="47.5" height="1.89" fill="#e0e01f"/><rect x="546.6" y="315.41" width="47.5" height="1.89" fill="#c1c13f"/><rect x="546.6" y="317.00" width="47.5" height="1.89" fill="#b8b848"/><rect x="546.6" y="318.59" width="47.5" height="1.89" fill="#c8c838"/><rect x="546.6" y="320.18" width="47.5" height="1.89" fill="#dada25"/><rect x="546.6" y="321.77" width="47.5" height="1.89" fill="#baba46"/><rect x="546.6" y="323.36" width="47.5" height="1.89" fill="#e2e21e"/><rect x="546.6" y="324.95" width="47.5" height="1.89" fill="#e1e11e"/><rect x="546.6" y="326.54" width="47.5" height="1.89" fill="#f6f609"/><rect x="546.6" y="328.13" width="47.5" height="1.89" fill="#c7c738"/><rect x="546.6" y="329.72" width="47.5" height="1.89" fill="#e9e917"/><rect x="546.6" y="331.31" width="47.5" height="1.89" fill="#777789"/><rect x="546.6" y="332.90" width="47.5" height="1.89" fill="#61619e"/><rect x="546.6" y="334.49" width="47.5" height="1.89" fill="#7a7a86"/><rect x="546.6" y="336.09" width="47.5" height="1.89" fill="#65659b"/><rect x="546.6" y="337.68" width="47.5" height="1.89" fill="#5959a6"/><rect x="546.6" y="339.27" width="47.5" height="1.89" fill="#62629e"/><rect x="546.6" y="340.86" width="47.5" height="1.89" fill="#4f4fb1"/><rect x="546.6" y="342.45" width="47.5" height="1.89" fill="#96966a"/><rect x="546.6" y="344.04" width="47.5" height="1.89" fill="#baba45"/><rect x="546.6" y="345.63" width="47.5" height="1.89" fill="#91916f"/><rect x="546.6" y="347.22" width="47.5" height="1.89" fill="#bbbb45"/><rect x="546.6" y="348.81" width="47.5" height="4.89" fill="#9d9d63"/><rect x="593.7" y="112.00" width="47.5" height="4.89" fill="#707090"/><rect x="593.7" y="116.59" width="47.5" height="1.89" fill="#65659b"/><rect x="593.7" y="118.18" width="47.5" height="1.89" fill="#4c4cb3"/><rect x="593.7" y="119.77" width="47.5" height="1.89" fill="#6f6f91"/><rect x="593.7" y="121.36" width="47.5" height="1.89" fill="#6c6c94"/><rect x="593.7" y="122.95" width="47.5" height="1.89" fill="#5e5ea2"/><rect x="593.7" y="124.54" width="47.5" height="1.89" fill="#5c5ca4"/><rect x="593.7" y="126.13" width="47.5" height="1.89" fill="#6e6e92"/><rect x="593.7" y="127.72" width="47.5" height="1.89" fill="#63639d"/><rect x="593.7" y="129.31" width="47.5" height="1.89" fill="#5858a8"/><rect x="593.7" y="130.91" width="47.5" height="1.89" fill="#63639d"/><rect x="593.7" y="132.50" width="47.5" height="1.89" fill="#85857a"/><rect x="593.7" y="134.09" width="47.5" height="1.89" fill="#6b6b95"/><rect x="593.7" y="135.68" width="47.5" height="1.89" fill="#7a7a86"/><rect x="593.7" y="137.27" width="47.5" height="1.89" fill="#808080"/><rect x="593.7" y="138.86" width="47.5" height="1.89" fill="#707090"/><rect x="593.7" y="140.45" width="47.5" height="1.89" fill="#3d3dc2"/><rect x="593.7" y="142.04" width="47.5" height="1.89" fill="#3b3bc4"/><rect x="593.7" y="143.63" width="47.5" height="1.89" fill="#4949b6"/><rect x="593.7" y="145.22" width="47.5" height="1.89" fill="#7f7f81"/><rect x="593.7" y="146.81" width="47.5" height="1.89" fill="#787888"/><rect x="593.7" y="148.40" width="47.5" height="1.89" fill="#7b7b85"/><rect x="593.7" y="149.99" width="47.5" height="1.89" fill="#4545bb"/><rect x="593.7" y="151.58" width="47.5" height="1.89" fill="#4d4db3"/><rect x="593.7" y="153.17" width="47.5" height="1.89" fill="#4444bb"/><rect x="593.7" y="154.76" width="47.5" height="1.89" fill="#4646b9"/><rect x="593.7" y="156.35" width="47.5" height="1.89" fill="#3c3cc4"/><rect x="593.7" y="157.94" width="47.5" height="1.89" fill="#4e4eb1"/><rect x="593.7" y="159.54" width="47.5" height="1.89" fill="#5a5aa6"/><rect x="593.7" y="161.13" width="47.5" height="1.89" fill="#5353ac"/><rect x="593.7" y="162.72" width="47.5" height="1.89" fill="#5555ab"/><rect x="593.7" y="164.31" width="47.5" height="1.89" fill="#777789"/><rect x="593.7" y="165.90" width="47.5" height="1.89" fill="#6f6f91"/><rect x="593.7" y="167.49" width="47.5" height="1.89" fill="#3e3ec2"/><rect x="593.7" y="169.08" width="47.5" height="1.89" fill="#6f6f91"/><rect x="593.7" y="170.67" width="47.5" height="1.89" fill="#5e5ea2"/><rect x="593.7" y="172.26" width="47.5" height="1.89" fill="#787888"/><rect x="593.7" y="173.85" width="47.5" height="1.89" fill="#4d4db2"/><rect x="593.7" y="175.44" width="47.5" height="1.89" fill="#686898"/><rect x="593.7" y="177.03" width="47.5" height="1.89" fill="#7c7c84"/><rect x="593.7" y="178.62" width="47.5" height="1.89" fill="#787888"/><rect x="593.7" y="180.21" width="47.5" height="1.89" fill="#1818e7"/><rect x="593.7" y="181.80" width="47.5" height="1.89" fill="#4242be"/><rect x="593.7" y="183.39" width="47.5" height="1.89" fill="#3333cd"/><rect x="593.7" y="184.98" width="47.5" height="1.89" fill="#65659b"/><rect x="593.7" y="186.57" width="47.5" height="1.89" fill="#4d4db2"/><rect x="593.7" y="188.16" width="47.5" height="1.89" fill="#2c2cd3"/><rect x="593.7" y="189.76" width="47.5" height="1.89" fill="#4a4ab5"/><rect x="593.7" y="191.35" width="47.5" height="1.89" fill="#64649c"/><rect x="593.7" y="192.94" width="47.5" height="1.89" fill="#72728e"/><rect x="593.7" y="194.53" width="47.5" height="1.89" fill="#7f7f81"/><rect x="593.7" y="196.12" width="47.5" height="1.89" fill="#61619f"/><rect x="593.7" y="197.71" width="47.5" height="1.89" fill="#5e5ea1"/><rect x="593.7" y="199.30" width="47.5" height="1.89" fill="#60609f"/><rect x="593.7" y="200.89" width="47.5" height="1.89" fill="#8d8d73"/><rect x="593.7" y="202.48" width="47.5" height="1.89" fill="#777789"/><rect x="593.7" y="204.07" width="47.5" height="1.89" fill="#5050af"/><rect x="593.7" y="205.66" width="47.5" height="1.89" fill="#5050b0"/><rect x="593.7" y="207.25" width="47.5" height="1.89" fill="#63639d"/><rect x="593.7" y="208.84" width="47.5" height="1.89" fill="#4646ba"/><rect x="593.7" y="210.43" width="47.5" height="1.89" fill="#4040c0"/><rect x="593.7" y="212.02" width="47.5" height="1.89" fill="#6d6d93"/><rect x="593.7" y="213.61" width="47.5" height="1.89" fill="#60609f"/><rect x="593.7" y="215.20" width="47.5" height="1.89" fill="#686898"/><rect x="593.7" y="216.79" width="47.5" height="1.89" fill="#66669a"/><rect x="593.7" y="218.39" width="47.5" height="1.89" fill="#3b3bc4"/><rect x="593.7" y="219.98" width="47.5" height="1.89" fill="#2727d8"/><rect x="593.7" y="221.57" width="47.5" height="1.89" fill="#2d2dd2"/><rect x="593.7" y="223.16" width="47.5" height="1.89" fill="#1313ed"/><rect x="593.7" y="224.75" width="47.5" height="1.89" fill="#2525db"/><rect x="593.7" y="226.34" width="47.5" height="1.89" fill="#3f3fc0"/><rect x="593.7" y="227.93" width="47.5" height="1.89" fill="#63639d"/><rect x="593.7" y="229.52" width="47.5" height="1.89" fill="#4d4db3"/><rect x="593.7" y="231.11" width="47.5" height="1.89" fill="#5858a8"/><rect x="593.7" y="232.70" width="47.5" height="1.89" fill="#6b6b95"/><rect x="593.7" y="234.29" width="47.5" height="1.89" fill="#676799"/><rect x="593.7" y="235.88" width="47.5" height="1.89" fill="#2c2cd3"/><rect x="593.7" y="237.47" width="47.5" height="1.89" fill="#4141bf"/><rect x="593.7" y="239.06" width="47.5" height="1.89" fill="#3c3cc3"/><rect x="593.7" y="240.65" width="47.5" height="1.89" fill="#4141be"/><rect x="593.7" y="242.24" width="47.5" height="1.89" fill="#5e5ea2"/><rect x="593.7" y="243.83" width="47.5" height="1.89" fill="#787888"/><rect x="593.7" y="245.42" width="47.5" height="1.89" fill="#4949b7"/><rect x="593.7" y="247.01" width="47.5" height="1.89" fill="#4343bd"/><rect x="593.7" y="248.61" width="47.5" height="1.89" fill="#e3e31c"/><rect x="593.7" y="250.20" width="47.5" height="1.89" fill="#e7e718"/><rect x="593.7" y="251.79" width="47.5" height="1.89" fill="#f8f807"/><rect x="593.7" y="253.38" width="47.5" height="1.89" fill="#e7e719"/><rect x="593.7" y="254.97" width="47.5" height="1.89" fill="#fbfb04"/><rect x="593.7" y="256.56" width="47.5" height="1.89" fill="#d5d52a"/><rect x="593.7" y="258.15" width="47.5" height="1.89" fill="#e1e11f"/><rect x="593.7" y="259.74" width="47.5" height="1.89" fill="#d9d927"/><rect x="593.7" y="261.33" width="47.5" height="1.89" fill="#f1f10e"/><rect x="593.7" y="262.92" width="47.5" height="1.89" fill="#d5d52a"/><rect x="593.7" y="264.51" width="47.5" height="1.89" fill="#f7f708"/><rect x="593.7" y="266.10" width="47.5" height="1.89" fill="#fefe01"/><rect x="593.7" y="267.69" width="47.5" height="1.89" fill="#f5f50a"/><rect x="593.7" y="269.28" width="47.5" height="1.89" fill="#d5d52b"/><rect x="593.7" y="270.87" width="47.5" height="1.89" fill="#c5c53a"/><rect x="593.7" y="272.46" width="47.5" height="1.89" fill="#c6c639"/><rect x="593.7" y="274.05" width="47.5" height="1.89" fill="#bebe42"/><rect x="593.7" y="275.64" width="47.5" height="1.89" fill="#e1e11e"/><rect x="593.7" y="277.24" width="47.5" height="1.89" fill="#cfcf31"/><rect x="593.7" y="278.83" width="47.5" height="1.89" fill="#c5c53b"/><rect x="593.7" y="280.42" width="47.5" height="1.89" fill="#b8b848"/><rect x="593.7" y="282.01" width="47.5" height="1.89" fill="#caca36"/><rect x="593.7" y="283.60" width="47.5" height="1.89" fill="#e2e21d"/><rect x="593.7" y="285.19" width="47.5" height="1.89" fill="#b5b54b"/><rect x="593.7" y="286.78" width="47.5" height="1.89" fill="#a3a35d"/><rect x="593.7" y="288.37" width="47.5" height="1.89" fill="#f1f10e"/><rect x="593.7" y="289.96" width="47.5" height="1.89" fill="#f1f10e"/><rect x="593.7" y="291.55" width="47.5" height="1.89" fill="#eaea15"/><rect x="593.7" y="293.14" width="47.5" height="1.89" fill="#e7e718"/><rect x="593.7" y="294.73" width="47.5" height="1.89" fill="#a8a857"/><rect x="593.7" y="296.32" width="47.5" height="1.89" fill="#cdcd33"/><rect x="593.7" y="297.91" width="47.5" height="1.89" fill="#d0d02f"/><rect x="593.7" y="299.50" width="47.5" height="1.89" fill="#b9b947"/><rect x="593.7" y="301.09" width="47.5" height="1.89" fill="#dbdb24"/><rect x="593.7" y="302.68" width="47.5" height="1.89" fill="#eeee11"/><rect x="593.7" y="304.27" width="47.5" height="1.89" fill="#ffff00"/><rect x="593.7" y="305.86" width="47.5" height="1.89" fill="#a5a55a"/><rect x="593.7" y="307.46" width="47.5" height="1.89" fill="#cfcf30"/><rect x="593.7" y="309.05" width="47.5" height="1.89" fill="#d4d42c"/><rect x="593.7" y="310.64" width="47.5" height="1.89" fill="#a1a15f"/><rect x="593.7" y="312.23" width="47.5" height="1.89" fill="#adad53"/><rect x="593.7" y="313.82" width="47.5" height="1.89" fill="#b2b24e"/><rect x="593.7" y="315.41" width="47.5" height="1.89" fill="#dddd23"/><rect x="593.7" y="317.00" width="47.5" height="1.89" fill="#cccc34"/><rect x="593.7" y="318.59" width="47.5" height="1.89" fill="#d2d22e"/><rect x="593.7" y="320.18" width="47.5" height="1.89" fill="#e3e31c"/><rect x="593.7" y="321.77" width="47.5" height="1.89" fill="#e7e718"/><rect x="593.7" y="323.36" width="47.5" height="1.89" fill="#60609f"/><rect x="593.7" y="324.95" width="47.5" height="1.89" fill="#989868"/><rect x="593.7" y="326.54" width="47.5" height="1.89" fill="#9a9a66"/><rect x="593.7" y="328.13" width="47.5" height="1.89" fill="#a7a759"/><rect x="593.7" y="329.72" width="47.5" height="1.89" fill="#5454ac"/><rect x="593.7" y="331.31" width="47.5" height="1.89" fill="#5151af"/><rect x="593.7" y="332.90" width="47.5" height="1.89" fill="#61619f"/><rect x="593.7" y="334.49" width="47.5" height="1.89" fill="#5353ac"/><rect x="593.7" y="336.09" width="47.5" height="1.89" fill="#5959a7"/><rect x="593.7" y="337.68" width="47.5" height="1.89" fill="#afaf51"/><rect x="593.7" y="339.27" width="47.5" height="1.89" fill="#b5b54b"/><rect x="593.7" y="340.86" width="47.5" height="1.89" fill="#9d9d62"/><rect x="593.7" y="342.45" width="47.5" height="1.89" fill="#8c8c74"/><rect x="593.7" y="344.04" width="47.5" height="1.89" fill="#6d6d93"/><rect x="593.7" y="345.63" width="47.5" height="1.89" fill="#707090"/><rect x="593.7" y="347.22" width="47.5" height="1.89" fill="#5959a7"/><rect x="593.7" y="348.81" width="47.5" height="4.89" fill="#5c5ca3"/><rect x="640.9" y="112.00" width="47.5" height="4.89" fill="#5b5ba4"/><rect x="640.9" y="116.59" width="47.5" height="1.89" fill="#5050b0"/><rect x="640.9" y="118.18" width="47.5" height="1.89" fill="#4c4cb4"/><rect x="640.9" y="119.77" width="47.5" height="1.89" fill="#5050b0"/><rect x="640.9" y="121.36" width="47.5" height="1.89" fill="#4646b9"/><rect x="640.9" y="122.95" width="47.5" height="1.89" fill="#4141bf"/><rect x="640.9" y="124.54" width="47.5" height="1.89" fill="#4141be"/><rect x="640.9" y="126.13" width="47.5" height="1.89" fill="#4d4db3"/><rect x="640.9" y="127.72" width="47.5" height="1.89" fill="#3a3ac6"/><rect x="640.9" y="129.31" width="47.5" height="1.89" fill="#3c3cc3"/><rect x="640.9" y="130.91" width="47.5" height="1.89" fill="#3c3cc4"/><rect x="640.9" y="132.50" width="47.5" height="1.89" fill="#4e4eb1"/><rect x="640.9" y="134.09" width="47.5" height="1.89" fill="#4c4cb3"/><rect x="640.9" y="135.68" width="47.5" height="1.89" fill="#4f4fb0"/><rect x="640.9" y="137.27" width="47.5" height="1.89" fill="#4141be"/><rect x="640.9" y="138.86" width="47.5" height="1.89" fill="#4040c0"/><rect x="640.9" y="140.45" width="47.5" height="1.89" fill="#4b4bb5"/><rect x="640.9" y="142.04" width="47.5" height="1.89" fill="#5656aa"/><rect x="640.9" y="143.63" width="47.5" height="1.89" fill="#63639d"/><rect x="640.9" y="145.22" width="47.5" height="1.89" fill="#4747b9"/><rect x="640.9" y="146.81" width="47.5" height="1.89" fill="#3737c8"/><rect x="640.9" y="148.40" width="47.5" height="1.89" fill="#3e3ec2"/><rect x="640.9" y="149.99" width="47.5" height="1.89" fill="#8d8d72"/><rect x="640.9" y="151.58" width="47.5" height="1.89" fill="#aaaa56"/><rect x="640.9" y="153.17" width="47.5" height="1.89" fill="#b7b749"/><rect x="640.9" y="154.76" width="47.5" height="1.89" fill="#8e8e72"/><rect x="640.9" y="156.35" width="47.5" height="1.89" fill="#65659b"/><rect x="640.9" y="157.94" width="47.5" height="1.89" fill="#4c4cb4"/><rect x="640.9" y="159.54" width="47.5" height="1.89" fill="#8f8f71"/><rect x="640.9" y="161.13" width="47.5" height="1.89" fill="#8b8b75"/><rect x="640.9" y="162.72" width="47.5" height="1.89" fill="#7c7c83"/><rect x="640.9" y="164.31" width="47.5" height="1.89" fill="#979768"/><rect x="640.9" y="165.90" width="47.5" height="1.89" fill="#777789"/><rect x="640.9" y="167.49" width="47.5" height="1.89" fill="#888878"/><rect x="640.9" y="169.08" width="47.5" height="1.89" fill="#e1e11e"/><rect x="640.9" y="170.67" width="47.5" height="1.89" fill="#cccc33"/><rect x="640.9" y="172.26" width="47.5" height="1.89" fill="#ecec13"/><rect x="640.9" y="173.85" width="47.5" height="1.89" fill="#efef10"/><rect x="640.9" y="175.44" width="47.5" height="1.89" fill="#caca35"/><rect x="640.9" y="177.03" width="47.5" height="1.89" fill="#caca36"/><rect x="640.9" y="178.62" width="47.5" height="1.89" fill="#a0a060"/><rect x="640.9" y="180.21" width="47.5" height="1.89" fill="#969669"/><rect x="640.9" y="181.80" width="47.5" height="1.89" fill="#73738d"/><rect x="640.9" y="183.39" width="47.5" height="1.89" fill="#a9a956"/><rect x="640.9" y="184.98" width="47.5" height="1.89" fill="#acac54"/><rect x="640.9" y="186.57" width="47.5" height="1.89" fill="#acac54"/><rect x="640.9" y="188.16" width="47.5" height="1.89" fill="#baba45"/><rect x="640.9" y="189.76" width="47.5" height="1.89" fill="#b4b44c"/><rect x="640.9" y="191.35" width="47.5" height="1.89" fill="#9b9b65"/><rect x="640.9" y="192.94" width="47.5" height="1.89" fill="#95956b"/><rect x="640.9" y="194.53" width="47.5" height="1.89" fill="#8a8a76"/><rect x="640.9" y="196.12" width="47.5" height="1.89" fill="#90906f"/><rect x="640.9" y="197.71" width="47.5" height="1.89" fill="#797987"/><rect x="640.9" y="199.30" width="47.5" height="1.89" fill="#72728e"/><rect x="640.9" y="200.89" width="47.5" height="1.89" fill="#5d5da3"/><rect x="640.9" y="202.48" width="47.5" height="1.89" fill="#74748c"/><rect x="640.9" y="204.07" width="47.5" height="1.89" fill="#6b6b95"/><rect x="640.9" y="205.66" width="47.5" height="1.89" fill="#7c7c84"/><rect x="640.9" y="207.25" width="47.5" height="1.89" fill="#cece32"/><rect x="640.9" y="208.84" width="47.5" height="1.89" fill="#d4d42b"/><rect x="640.9" y="210.43" width="47.5" height="1.89" fill="#d1d12e"/><rect x="640.9" y="212.02" width="47.5" height="1.89" fill="#e6e619"/><rect x="640.9" y="213.61" width="47.5" height="1.89" fill="#cfcf30"/><rect x="640.9" y="215.20" width="47.5" height="1.89" fill="#f6f609"/><rect x="640.9" y="216.79" width="47.5" height="1.89" fill="#ffff00"/><rect x="640.9" y="218.39" width="47.5" height="1.89" fill="#f3f30c"/><rect x="640.9" y="219.98" width="47.5" height="1.89" fill="#dede21"/><rect x="640.9" y="221.57" width="47.5" height="1.89" fill="#dbdb24"/><rect x="640.9" y="223.16" width="47.5" height="1.89" fill="#e0e020"/><rect x="640.9" y="224.75" width="47.5" height="1.89" fill="#f9f906"/><rect x="640.9" y="226.34" width="47.5" height="1.89" fill="#d5d52a"/><rect x="640.9" y="227.93" width="47.5" height="1.89" fill="#9f9f61"/><rect x="640.9" y="229.52" width="47.5" height="1.89" fill="#d8d827"/><rect x="640.9" y="231.11" width="47.5" height="1.89" fill="#e6e61a"/><rect x="640.9" y="232.70" width="47.5" height="1.89" fill="#c9c936"/><rect x="640.9" y="234.29" width="47.5" height="1.89" fill="#ffff00"/><rect x="640.9" y="235.88" width="47.5" height="1.89" fill="#ffff00"/><rect x="640.9" y="237.47" width="47.5" height="1.89" fill="#ffff00"/><rect x="640.9" y="239.06" width="47.5" height="1.89" fill="#ffff00"/><rect x="640.9" y="240.65" width="47.5" height="1.89" fill="#ffff00"/><rect x="640.9" y="242.24" width="47.5" height="1.89" fill="#fcfc03"/><rect x="640.9" y="243.83" width="47.5" height="1.89" fill="#ffff00"/><rect x="640.9" y="245.42" width="47.5" height="1.89" fill="#ffff00"/><rect x="640.9" y="247.01" width="47.5" height="1.89" fill="#ffff00"/><rect x="640.9" y="248.61" width="47.5" height="1.89" fill="#5757a9"/><rect x="640.9" y="250.20" width="47.5" height="1.89" fill="#5959a6"/><rect x="640.9" y="251.79" width="47.5" height="1.89" fill="#4a4ab5"/><rect x="640.9" y="253.38" width="47.5" height="1.89" fill="#5151af"/><rect x="640.9" y="254.97" width="47.5" height="1.89" fill="#5252ae"/><rect x="640.9" y="256.56" width="47.5" height="1.89" fill="#5858a8"/><rect x="640.9" y="258.15" width="47.5" height="1.89" fill="#5454ac"/><rect x="640.9" y="259.74" width="47.5" height="1.89" fill="#2c2cd3"/><rect x="640.9" y="261.33" width="47.5" height="1.89" fill="#4646ba"/><rect x="640.9" y="262.92" width="47.5" height="1.89" fill="#4c4cb4"/><rect x="640.9" y="264.51" width="47.5" height="1.89" fill="#3636c9"/><rect x="640.9" y="266.10" width="47.5" height="1.89" fill="#3e3ec2"/><rect x="640.9" y="267.69" width="47.5" height="1.89" fill="#3c3cc3"/><rect x="640.9" y="269.28" width="47.5" height="1.89" fill="#4242be"/><rect x="640.9" y="270.87" width="47.5" height="1.89" fill="#4f4fb0"/><rect x="640.9" y="272.46" width="47.5" height="1.89" fill="#71718f"/><rect x="640.9" y="274.05" width="47.5" height="1.89" fill="#5a5aa5"/><rect x="640.9" y="275.64" width="47.5" height="1.89" fill="#93936d"/><rect x="640.9" y="277.24" width="47.5" height="1.89" fill="#81817f"/><rect x="640.9" y="278.83" width="47.5" height="1.89" fill="#7c7c84"/><rect x="640.9" y="280.42" width="47.5" height="1.89" fill="#2222dd"/><rect x="640.9" y="282.01" width="47.5" height="1.89" fill="#2d2dd2"/><rect x="640.9" y="283.60" width="47.5" height="1.89" fill="#1a1ae5"/><rect x="640.9" y="285.19" width="47.5" height="1.89" fill="#1f1fe0"/><rect x="640.9" y="286.78" width="47.5" height="1.89" fill="#1e1ee1"/><rect x="640.9" y="288.37" width="47.5" height="1.89" fill="#1111ee"/><rect x="640.9" y="289.96" width="47.5" height="1.89" fill="#4d4db3"/><rect x="640.9" y="291.55" width="47.5" height="1.89" fill="#4545bb"/><rect x="640.9" y="293.14" width="47.5" height="1.89" fill="#2e2ed1"/><rect x="640.9" y="294.73" width="47.5" height="1.89" fill="#3b3bc4"/><rect x="640.9" y="296.32" width="47.5" height="1.89" fill="#2424db"/><rect x="640.9" y="297.91" width="47.5" height="1.89" fill="#2e2ed2"/><rect x="640.9" y="299.50" width="47.5" height="1.89" fill="#4141be"/><rect x="640.9" y="301.09" width="47.5" height="1.89" fill="#5f5fa1"/><rect x="640.9" y="302.68" width="47.5" height="1.89" fill="#3c3cc3"/><rect x="640.9" y="304.27" width="47.5" height="1.89" fill="#3030cf"/><rect x="640.9" y="305.86" width="47.5" height="1.89" fill="#4949b6"/><rect x="640.9" y="307.46" width="47.5" height="1.89" fill="#6060a0"/><rect x="640.9" y="309.05" width="47.5" height="1.89" fill="#4f4fb0"/><rect x="640.9" y="310.64" width="47.5" height="1.89" fill="#2c2cd3"/><rect x="640.9" y="312.23" width="47.5" height="1.89" fill="#3535ca"/><rect x="640.9" y="313.82" width="47.5" height="1.89" fill="#2525db"/><rect x="640.9" y="315.41" width="47.5" height="1.89" fill="#3131cf"/><rect x="640.9" y="317.00" width="47.5" height="1.89" fill="#3737c8"/><rect x="640.9" y="318.59" width="47.5" height="1.89" fill="#3333cc"/><rect x="640.9" y="320.18" width="47.5" height="1.89" fill="#5e5ea2"/><rect x="640.9" y="321.77" width="47.5" height="1.89" fill="#5353ac"/><rect x="640.9" y="323.36" width="47.5" height="1.89" fill="#6060a0"/><rect x="640.9" y="324.95" width="47.5" height="1.89" fill="#5555aa"/><rect x="640.9" y="326.54" width="47.5" height="1.89" fill="#686898"/><rect x="640.9" y="328.13" width="47.5" height="1.89" fill="#76768a"/><rect x="640.9" y="329.72" width="47.5" height="1.89" fill="#5252ae"/><rect x="640.9" y="331.31" width="47.5" height="1.89" fill="#4242bd"/><rect x="640.9" y="332.90" width="47.5" height="1.89" fill="#5555aa"/><rect x="640.9" y="334.49" width="47.5" height="1.89" fill="#5e5ea2"/><rect x="640.9" y="336.09" width="47.5" height="1.89" fill="#4545bb"/><rect x="640.9" y="337.68" width="47.5" height="1.89" fill="#4545bb"/><rect x="640.9" y="339.27" width="47.5" height="1.89" fill="#3131cf"/><rect x="640.9" y="340.86" width="47.5" height="1.89" fill="#4141bf"/><rect x="640.9" y="342.45" width="47.5" height="1.89" fill="#5757a8"/><rect x="640.9" y="344.04" width="47.5" height="1.89" fill="#3e3ec2"/><rect x="640.9" y="345.63" width="47.5" height="1.89" fill="#5555aa"/><rect x="640.9" y="347.22" width="47.5" height="1.89" fill="#4747b8"/><rect x="640.9" y="348.81" width="47.5" height="4.89" fill="#5252ae"/><rect x="688.1" y="112.00" width="47.5" height="4.89" fill="#a2a25e"/><rect x="688.1" y="116.59" width="47.5" height="1.89" fill="#a3a35d"/><rect x="688.1" y="118.18" width="47.5" height="1.89" fill="#a3a35c"/><rect x="688.1" y="119.77" width="47.5" height="1.89" fill="#5555ab"/><rect x="688.1" y="121.36" width="47.5" height="1.89" fill="#baba46"/><rect x="688.1" y="122.95" width="47.5" height="1.89" fill="#b6b64a"/><rect x="688.1" y="124.54" width="47.5" height="1.89" fill="#baba46"/><rect x="688.1" y="126.13" width="47.5" height="1.89" fill="#c8c837"/><rect x="688.1" y="127.72" width="47.5" height="1.89" fill="#b1b14e"/><rect x="688.1" y="129.31" width="47.5" height="1.89" fill="#aaaa55"/><rect x="688.1" y="130.91" width="47.5" height="1.89" fill="#9b9b65"/><rect x="688.1" y="132.50" width="47.5" height="1.89" fill="#a1a15e"/><rect x="688.1" y="134.09" width="47.5" height="1.89" fill="#b2b24e"/><rect x="688.1" y="135.68" width="47.5" height="1.89" fill="#9a9a66"/><rect x="688.1" y="137.27" width="47.5" height="1.89" fill="#b8b848"/><rect x="688.1" y="138.86" width="47.5" height="1.89" fill="#abab55"/><rect x="688.1" y="140.45" width="47.5" height="1.89" fill="#baba46"/><rect x="688.1" y="142.04" width="47.5" height="1.89" fill="#a9a957"/><rect x="688.1" y="143.63" width="47.5" height="1.89" fill="#c1c13f"/><rect x="688.1" y="145.22" width="47.5" height="1.89" fill="#c7c738"/><rect x="688.1" y="146.81" width="47.5" height="1.89" fill="#a2a25e"/><rect x="688.1" y="148.40" width="47.5" height="1.89" fill="#cfcf30"/><rect x="688.1" y="149.99" width="47.5" height="1.89" fill="#6c6c94"/><rect x="688.1" y="151.58" width="47.5" height="1.89" fill="#5e5ea2"/><rect x="688.1" y="153.17" width="47.5" height="1.89" fill="#5f5fa0"/><rect x="688.1" y="154.76" width="47.5" height="1.89" fill="#74748c"/><rect x="688.1" y="156.35" width="47.5" height="1.89" fill="#b1b14e"/><rect x="688.1" y="157.94" width="47.5" height="1.89" fill="#91916f"/><rect x="688.1" y="159.54" width="47.5" height="1.89" fill="#9e9e62"/><rect x="688.1" y="161.13" width="47.5" height="1.89" fill="#9c9c64"/><rect x="688.1" y="162.72" width="47.5" height="1.89" fill="#9c9c64"/><rect x="688.1" y="164.31" width="47.5" height="1.89" fill="#7c7c84"/><rect x="688.1" y="165.90" width="47.5" height="1.89" fill="#aaaa56"/><rect x="688.1" y="167.49" width="47.5" height="1.89" fill="#95956b"/><rect x="688.1" y="169.08" width="47.5" height="1.89" fill="#5c5ca4"/><rect x="688.1" y="170.67" width="47.5" height="1.89" fill="#5858a7"/><rect x="688.1" y="172.26" width="47.5" height="1.89" fill="#a0a05f"/><rect x="688.1" y="173.85" width="47.5" height="1.89" fill="#5151ae"/><rect x="688.1" y="175.44" width="47.5" height="1.89" fill="#4c4cb4"/><rect x="688.1" y="177.03" width="47.5" height="1.89" fill="#a7a759"/><rect x="688.1" y="178.62" width="47.5" height="1.89" fill="#b4b44c"/><rect x="688.1" y="180.21" width="47.5" height="1.89" fill="#9a9a66"/><rect x="688.1" y="181.80" width="47.5" height="1.89" fill="#b3b34c"/><rect x="688.1" y="183.39" width="47.5" height="1.89" fill="#a2a25d"/><rect x="688.1" y="184.98" width="47.5" height="1.89" fill="#969669"/><rect x="688.1" y="186.57" width="47.5" height="1.89" fill="#ffff00"/><rect x="688.1" y="188.16" width="47.5" height="1.89" fill="#fdfd02"/><rect x="688.1" y="189.76" width="47.5" height="1.89" fill="#ffff00"/><rect x="688.1" y="191.35" width="47.5" height="1.89" fill="#ffff00"/><rect x="688.1" y="192.94" width="47.5" height="1.89" fill="#ffff00"/><rect x="688.1" y="194.53" width="47.5" height="1.89" fill="#f6f609"/><rect x="688.1" y="196.12" width="47.5" height="1.89" fill="#fcfc03"/><rect x="688.1" y="197.71" width="47.5" height="1.89" fill="#ffff00"/><rect x="688.1" y="199.30" width="47.5" height="1.89" fill="#cfcf30"/><rect x="688.1" y="200.89" width="47.5" height="1.89" fill="#cdcd33"/><rect x="688.1" y="202.48" width="47.5" height="1.89" fill="#c5c53a"/><rect x="688.1" y="204.07" width="47.5" height="1.89" fill="#d3d32c"/><rect x="688.1" y="205.66" width="47.5" height="1.89" fill="#b7b749"/><rect x="688.1" y="207.25" width="47.5" height="1.89" fill="#bbbb44"/><rect x="688.1" y="208.84" width="47.5" height="1.89" fill="#d9d926"/><rect x="688.1" y="210.43" width="47.5" height="1.89" fill="#cfcf31"/><rect x="688.1" y="212.02" width="47.5" height="1.89" fill="#d1d12f"/><rect x="688.1" y="213.61" width="47.5" height="1.89" fill="#dada25"/><rect x="688.1" y="215.20" width="47.5" height="1.89" fill="#a4a45c"/><rect x="688.1" y="216.79" width="47.5" height="1.89" fill="#a3a35d"/><rect x="688.1" y="218.39" width="47.5" height="1.89" fill="#bfbf40"/><rect x="688.1" y="219.98" width="47.5" height="1.89" fill="#b6b64a"/><rect x="688.1" y="221.57" width="47.5" height="1.89" fill="#b9b947"/><rect x="688.1" y="223.16" width="47.5" height="1.89" fill="#a6a65a"/><rect x="688.1" y="224.75" width="47.5" height="1.89" fill="#9e9e61"/><rect x="688.1" y="226.34" width="47.5" height="1.89" fill="#909070"/><rect x="688.1" y="227.93" width="47.5" height="1.89" fill="#5656aa"/><rect x="688.1" y="229.52" width="47.5" height="1.89" fill="#74748c"/><rect x="688.1" y="231.11" width="47.5" height="1.89" fill="#86867a"/><rect x="688.1" y="232.70" width="47.5" height="1.89" fill="#9b9b65"/><rect x="688.1" y="234.29" width="47.5" height="1.89" fill="#b0b050"/><rect x="688.1" y="235.88" width="47.5" height="1.89" fill="#a6a65a"/><rect x="688.1" y="237.47" width="47.5" height="1.89" fill="#8a8a76"/><rect x="688.1" y="239.06" width="47.5" height="1.89" fill="#707090"/><rect x="688.1" y="240.65" width="47.5" height="1.89" fill="#62629e"/><rect x="688.1" y="242.24" width="47.5" height="1.89" fill="#73738d"/><rect x="688.1" y="243.83" width="47.5" height="1.89" fill="#696997"/><rect x="688.1" y="245.42" width="47.5" height="1.89" fill="#74748c"/><rect x="688.1" y="247.01" width="47.5" height="1.89" fill="#5b5ba5"/><rect x="688.1" y="248.61" width="47.5" height="1.89" fill="#4949b7"/><rect x="688.1" y="250.20" width="47.5" height="1.89" fill="#5858a8"/><rect x="688.1" y="251.79" width="47.5" height="1.89" fill="#4141bf"/><rect x="688.1" y="253.38" width="47.5" height="1.89" fill="#3b3bc4"/><rect x="688.1" y="254.97" width="47.5" height="1.89" fill="#4d4db2"/><rect x="688.1" y="256.56" width="47.5" height="1.89" fill="#9a9a66"/><rect x="688.1" y="258.15" width="47.5" height="1.89" fill="#7a7a86"/><rect x="688.1" y="259.74" width="47.5" height="1.89" fill="#81817f"/><rect x="688.1" y="261.33" width="47.5" height="1.89" fill="#70708f"/><rect x="688.1" y="262.92" width="47.5" height="1.89" fill="#5858a8"/><rect x="688.1" y="264.51" width="47.5" height="1.89" fill="#64649c"/><rect x="688.1" y="266.10" width="47.5" height="1.89" fill="#5959a7"/><rect x="688.1" y="267.69" width="47.5" height="1.89" fill="#5454ac"/><rect x="688.1" y="269.28" width="47.5" height="1.89" fill="#76768a"/><rect x="688.1" y="270.87" width="47.5" height="1.89" fill="#8d8d73"/><rect x="688.1" y="272.46" width="47.5" height="1.89" fill="#3232ce"/><rect x="688.1" y="274.05" width="47.5" height="1.89" fill="#2f2fd0"/><rect x="688.1" y="275.64" width="47.5" height="1.89" fill="#2c2cd4"/><rect x="688.1" y="277.24" width="47.5" height="1.89" fill="#1b1be4"/><rect x="688.1" y="278.83" width="47.5" height="1.89" fill="#3c3cc3"/><rect x="688.1" y="280.42" width="47.5" height="1.89" fill="#7f7f81"/><rect x="688.1" y="282.01" width="47.5" height="1.89" fill="#7e7e82"/><rect x="688.1" y="283.60" width="47.5" height="1.89" fill="#5757a9"/><rect x="688.1" y="285.19" width="47.5" height="1.89" fill="#3838c8"/><rect x="688.1" y="286.78" width="47.5" height="1.89" fill="#4e4eb1"/><rect x="688.1" y="288.37" width="47.5" height="1.89" fill="#4e4eb2"/><rect x="688.1" y="289.96" width="47.5" height="1.89" fill="#5353ad"/><rect x="688.1" y="291.55" width="47.5" height="1.89" fill="#5e5ea2"/><rect x="688.1" y="293.14" width="47.5" height="1.89" fill="#9e9e62"/><rect x="688.1" y="294.73" width="47.5" height="1.89" fill="#7c7c84"/><rect x="688.1" y="296.32" width="47.5" height="1.89" fill="#676799"/><rect x="688.1" y="297.91" width="47.5" height="1.89" fill="#6c6c93"/><rect x="688.1" y="299.50" width="47.5" height="1.89" fill="#a8a857"/><rect x="688.1" y="301.09" width="47.5" height="1.89" fill="#93936d"/><rect x="688.1" y="302.68" width="47.5" height="1.89" fill="#5858a8"/><rect x="688.1" y="304.27" width="47.5" height="1.89" fill="#707090"/><rect x="688.1" y="305.86" width="47.5" height="1.89" fill="#6e6e92"/><rect x="688.1" y="307.46" width="47.5" height="1.89" fill="#3e3ec1"/><rect x="688.1" y="309.05" width="47.5" height="1.89" fill="#2c2cd3"/><rect x="688.1" y="310.64" width="47.5" height="1.89" fill="#5252ae"/><rect x="688.1" y="312.23" width="47.5" height="1.89" fill="#3535ca"/><rect x="688.1" y="313.82" width="47.5" height="1.89" fill="#3b3bc5"/><rect x="688.1" y="315.41" width="47.5" height="1.89" fill="#5555aa"/><rect x="688.1" y="317.00" width="47.5" height="1.89" fill="#3d3dc2"/><rect x="688.1" y="318.59" width="47.5" height="1.89" fill="#4141be"/><rect x="688.1" y="320.18" width="47.5" height="1.89" fill="#3232cd"/><rect x="688.1" y="321.77" width="47.5" height="1.89" fill="#4e4eb2"/><rect x="688.1" y="323.36" width="47.5" height="1.89" fill="#5757a9"/><rect x="688.1" y="324.95" width="47.5" height="1.89" fill="#686898"/><rect x="688.1" y="326.54" width="47.5" height="1.89" fill="#66669a"/><rect x="688.1" y="328.13" width="47.5" height="1.89" fill="#7a7a86"/><rect x="688.1" y="329.72" width="47.5" height="1.89" fill="#95956b"/><rect x="688.1" y="331.31" width="47.5" height="1.89" fill="#4b4bb5"/><rect x="688.1" y="332.90" width="47.5" height="1.89" fill="#5252ad"/><rect x="688.1" y="334.49" width="47.5" height="1.89" fill="#5a5aa6"/><rect x="688.1" y="336.09" width="47.5" height="1.89" fill="#5555aa"/><rect x="688.1" y="337.68" width="47.5" height="1.89" fill="#5f5fa1"/><rect x="688.1" y="339.27" width="47.5" height="1.89" fill="#64649c"/><rect x="688.1" y="340.86" width="47.5" height="1.89" fill="#4141bf"/><rect x="688.1" y="342.45" width="47.5" height="1.89" fill="#3e3ec1"/><rect x="688.1" y="344.04" width="47.5" height="1.89" fill="#3f3fc1"/><rect x="688.1" y="345.63" width="47.5" height="1.89" fill="#4040bf"/><rect x="688.1" y="347.22" width="47.5" height="1.89" fill="#4d4db3"/><rect x="688.1" y="348.81" width="47.5" height="4.89" fill="#4242be"/><rect x="735.2" y="112.00" width="50.5" height="4.89" fill="#ffff00"/><rect x="735.2" y="116.59" width="50.5" height="1.89" fill="#f9f907"/><rect x="735.2" y="118.18" width="50.5" height="1.89" fill="#eded12"/><rect x="735.2" y="119.77" width="50.5" height="1.89" fill="#ffff00"/><rect x="735.2" y="121.36" width="50.5" height="1.89" fill="#c8c838"/><rect x="735.2" y="122.95" width="50.5" height="1.89" fill="#d8d828"/><rect x="735.2" y="124.54" width="50.5" height="1.89" fill="#eeee11"/><rect x="735.2" y="126.13" width="50.5" height="1.89" fill="#c7c738"/><rect x="735.2" y="127.72" width="50.5" height="1.89" fill="#d7d729"/><rect x="735.2" y="129.31" width="50.5" height="1.89" fill="#bfbf40"/><rect x="735.2" y="130.91" width="50.5" height="1.89" fill="#d0d030"/><rect x="735.2" y="132.50" width="50.5" height="1.89" fill="#c1c13f"/><rect x="735.2" y="134.09" width="50.5" height="1.89" fill="#d2d22d"/><rect x="735.2" y="135.68" width="50.5" height="1.89" fill="#cfcf30"/><rect x="735.2" y="137.27" width="50.5" height="1.89" fill="#dada26"/><rect x="735.2" y="138.86" width="50.5" height="1.89" fill="#f0f00f"/><rect x="735.2" y="140.45" width="50.5" height="1.89" fill="#dcdc23"/><rect x="735.2" y="142.04" width="50.5" height="1.89" fill="#e2e21e"/><rect x="735.2" y="143.63" width="50.5" height="1.89" fill="#d7d728"/><rect x="735.2" y="145.22" width="50.5" height="1.89" fill="#d4d42b"/><rect x="735.2" y="146.81" width="50.5" height="1.89" fill="#cbcb34"/><rect x="735.2" y="148.40" width="50.5" height="1.89" fill="#bcbc43"/><rect x="735.2" y="149.99" width="50.5" height="1.89" fill="#ffff00"/><rect x="735.2" y="151.58" width="50.5" height="1.89" fill="#ffff00"/><rect x="735.2" y="153.17" width="50.5" height="1.89" fill="#ffff00"/><rect x="735.2" y="154.76" width="50.5" height="1.89" fill="#f9f906"/><rect x="735.2" y="156.35" width="50.5" height="1.89" fill="#ffff00"/><rect x="735.2" y="157.94" width="50.5" height="1.89" fill="#f3f30c"/><rect x="735.2" y="159.54" width="50.5" height="1.89" fill="#f0f00f"/><rect x="735.2" y="161.13" width="50.5" height="1.89" fill="#e7e718"/><rect x="735.2" y="162.72" width="50.5" height="1.89" fill="#ebeb14"/><rect x="735.2" y="164.31" width="50.5" height="1.89" fill="#f6f609"/><rect x="735.2" y="165.90" width="50.5" height="1.89" fill="#ebeb14"/><rect x="735.2" y="167.49" width="50.5" height="1.89" fill="#c9c936"/><rect x="735.2" y="169.08" width="50.5" height="1.89" fill="#bcbc43"/><rect x="735.2" y="170.67" width="50.5" height="1.89" fill="#c3c33c"/><rect x="735.2" y="172.26" width="50.5" height="1.89" fill="#c9c937"/><rect x="735.2" y="173.85" width="50.5" height="1.89" fill="#b2b24d"/><rect x="735.2" y="175.44" width="50.5" height="1.89" fill="#cece31"/><rect x="735.2" y="177.03" width="50.5" height="1.89" fill="#d7d728"/><rect x="735.2" y="178.62" width="50.5" height="1.89" fill="#e8e817"/><rect x="735.2" y="180.21" width="50.5" height="1.89" fill="#ecec13"/><rect x="735.2" y="181.80" width="50.5" height="1.89" fill="#cfcf30"/><rect x="735.2" y="183.39" width="50.5" height="1.89" fill="#c9c936"/><rect x="735.2" y="184.98" width="50.5" height="1.89" fill="#f7f708"/><rect x="735.2" y="186.57" width="50.5" height="1.89" fill="#7c7c84"/><rect x="735.2" y="188.16" width="50.5" height="1.89" fill="#5f5fa1"/><rect x="735.2" y="189.76" width="50.5" height="1.89" fill="#72728e"/><rect x="735.2" y="191.35" width="50.5" height="1.89" fill="#5555ab"/><rect x="735.2" y="192.94" width="50.5" height="1.89" fill="#5a5aa5"/><rect x="735.2" y="194.53" width="50.5" height="1.89" fill="#5757a9"/><rect x="735.2" y="196.12" width="50.5" height="1.89" fill="#4f4fb1"/><rect x="735.2" y="197.71" width="50.5" height="1.89" fill="#a1a15e"/><rect x="735.2" y="199.30" width="50.5" height="1.89" fill="#a1a15f"/><rect x="735.2" y="200.89" width="50.5" height="1.89" fill="#9e9e62"/><rect x="735.2" y="202.48" width="50.5" height="1.89" fill="#82827e"/><rect x="735.2" y="204.07" width="50.5" height="1.89" fill="#75758b"/><rect x="735.2" y="205.66" width="50.5" height="1.89" fill="#92926d"/><rect x="735.2" y="207.25" width="50.5" height="1.89" fill="#86867a"/><rect x="735.2" y="208.84" width="50.5" height="1.89" fill="#62629e"/><rect x="735.2" y="210.43" width="50.5" height="1.89" fill="#676799"/><rect x="735.2" y="212.02" width="50.5" height="1.89" fill="#62629e"/><rect x="735.2" y="213.61" width="50.5" height="1.89" fill="#5b5ba4"/><rect x="735.2" y="215.20" width="50.5" height="1.89" fill="#6060a0"/><rect x="735.2" y="216.79" width="50.5" height="1.89" fill="#6c6c94"/><rect x="735.2" y="218.39" width="50.5" height="1.89" fill="#5757a8"/><rect x="735.2" y="219.98" width="50.5" height="1.89" fill="#c3c33c"/><rect x="735.2" y="221.57" width="50.5" height="1.89" fill="#c0c03f"/><rect x="735.2" y="223.16" width="50.5" height="1.89" fill="#b9b946"/><rect x="735.2" y="224.75" width="50.5" height="1.89" fill="#75758b"/><rect x="735.2" y="226.34" width="50.5" height="1.89" fill="#5d5da3"/><rect x="735.2" y="227.93" width="50.5" height="1.89" fill="#adad53"/><rect x="735.2" y="229.52" width="50.5" height="1.89" fill="#a7a759"/><rect x="735.2" y="231.11" width="50.5" height="1.89" fill="#aaaa56"/><rect x="735.2" y="232.70" width="50.5" height="1.89" fill="#a5a55b"/><rect x="735.2" y="234.29" width="50.5" height="1.89" fill="#64649c"/><rect x="735.2" y="235.88" width="50.5" height="1.89" fill="#5555ab"/><rect x="735.2" y="237.47" width="50.5" height="1.89" fill="#9f9f60"/><rect x="735.2" y="239.06" width="50.5" height="1.89" fill="#8d8d73"/><rect x="735.2" y="240.65" width="50.5" height="1.89" fill="#afaf51"/><rect x="735.2" y="242.24" width="50.5" height="1.89" fill="#797987"/><rect x="735.2" y="243.83" width="50.5" height="1.89" fill="#676799"/><rect x="735.2" y="245.42" width="50.5" height="1.89" fill="#777789"/><rect x="735.2" y="247.01" width="50.5" height="1.89" fill="#4a4ab5"/><rect x="735.2" y="248.61" width="50.5" height="1.89" fill="#5c5ca4"/><rect x="735.2" y="250.20" width="50.5" height="1.89" fill="#4545ba"/><rect x="735.2" y="251.79" width="50.5" height="1.89" fill="#3333cc"/><rect x="735.2" y="253.38" width="50.5" height="1.89" fill="#5454ab"/><rect x="735.2" y="254.97" width="50.5" height="1.89" fill="#4343bd"/><rect x="735.2" y="256.56" width="50.5" height="1.89" fill="#3939c7"/><rect x="735.2" y="258.15" width="50.5" height="1.89" fill="#3d3dc2"/><rect x="735.2" y="259.74" width="50.5" height="1.89" fill="#3232cd"/><rect x="735.2" y="261.33" width="50.5" height="1.89" fill="#4242bd"/><rect x="735.2" y="262.92" width="50.5" height="1.89" fill="#3939c7"/><rect x="735.2" y="264.51" width="50.5" height="1.89" fill="#7a7a86"/><rect x="735.2" y="266.10" width="50.5" height="1.89" fill="#71718e"/><rect x="735.2" y="267.69" width="50.5" height="1.89" fill="#5858a8"/><rect x="735.2" y="269.28" width="50.5" height="1.89" fill="#3434cc"/><rect x="735.2" y="270.87" width="50.5" height="1.89" fill="#3e3ec1"/><rect x="735.2" y="272.46" width="50.5" height="1.89" fill="#2f2fd0"/><rect x="735.2" y="274.05" width="50.5" height="1.89" fill="#4343bd"/><rect x="735.2" y="275.64" width="50.5" height="1.89" fill="#4444bc"/><rect x="735.2" y="277.24" width="50.5" height="1.89" fill="#3c3cc4"/><rect x="735.2" y="278.83" width="50.5" height="1.89" fill="#3e3ec1"/><rect x="735.2" y="280.42" width="50.5" height="1.89" fill="#888878"/><rect x="735.2" y="282.01" width="50.5" height="1.89" fill="#96966a"/><rect x="735.2" y="283.60" width="50.5" height="1.89" fill="#aeae52"/><rect x="735.2" y="285.19" width="50.5" height="1.89" fill="#979768"/><rect x="735.2" y="286.78" width="50.5" height="1.89" fill="#74748c"/><rect x="735.2" y="288.37" width="50.5" height="1.89" fill="#62629e"/><rect x="735.2" y="289.96" width="50.5" height="1.89" fill="#5454ac"/><rect x="735.2" y="291.55" width="50.5" height="1.89" fill="#4545bb"/><rect x="735.2" y="293.14" width="50.5" height="1.89" fill="#5757a9"/><rect x="735.2" y="294.73" width="50.5" height="1.89" fill="#4242be"/><rect x="735.2" y="296.32" width="50.5" height="1.89" fill="#4545bb"/><rect x="735.2" y="297.91" width="50.5" height="1.89" fill="#4f4fb1"/><rect x="735.2" y="299.50" width="50.5" height="1.89" fill="#2f2fd0"/><rect x="735.2" y="301.09" width="50.5" height="1.89" fill="#1919e6"/><rect x="735.2" y="302.68" width="50.5" height="1.89" fill="#4f4fb1"/><rect x="735.2" y="304.27" width="50.5" height="1.89" fill="#5656aa"/><rect x="735.2" y="305.86" width="50.5" height="1.89" fill="#5757a9"/><rect x="735.2" y="307.46" width="50.5" height="1.89" fill="#4b4bb4"/><rect x="735.2" y="309.05" width="50.5" height="1.89" fill="#5656aa"/><rect x="735.2" y="310.64" width="50.5" height="1.89" fill="#5252ae"/><rect x="735.2" y="312.23" width="50.5" height="1.89" fill="#a5a55b"/><rect x="735.2" y="313.82" width="50.5" height="1.89" fill="#989868"/><rect x="735.2" y="315.41" width="50.5" height="1.89" fill="#676799"/><rect x="735.2" y="317.00" width="50.5" height="1.89" fill="#5d5da3"/><rect x="735.2" y="318.59" width="50.5" height="1.89" fill="#76768a"/><rect x="735.2" y="320.18" width="50.5" height="1.89" fill="#83837d"/><rect x="735.2" y="321.77" width="50.5" height="1.89" fill="#777789"/><rect x="735.2" y="323.36" width="50.5" height="1.89" fill="#64649c"/><rect x="735.2" y="324.95" width="50.5" height="1.89" fill="#5555ab"/><rect x="735.2" y="326.54" width="50.5" height="1.89" fill="#4b4bb5"/><rect x="735.2" y="328.13" width="50.5" height="1.89" fill="#4141be"/><rect x="735.2" y="329.72" width="50.5" height="1.89" fill="#3a3ac5"/><rect x="735.2" y="331.31" width="50.5" height="1.89" fill="#676799"/><rect x="735.2" y="332.90" width="50.5" height="1.89" fill="#5050af"/><rect x="735.2" y="334.49" width="50.5" height="1.89" fill="#61619e"/><rect x="735.2" y="336.09" width="50.5" height="1.89" fill="#5959a7"/><rect x="735.2" y="337.68" width="50.5" height="1.89" fill="#686898"/><rect x="735.2" y="339.27" width="50.5" height="1.89" fill="#5959a7"/><rect x="735.2" y="340.86" width="50.5" height="1.89" fill="#5959a7"/><rect x="735.2" y="342.45" width="50.5" height="1.89" fill="#4e4eb2"/><rect x="735.2" y="344.04" width="50.5" height="1.89" fill="#62629e"/><rect x="735.2" y="345.63" width="50.5" height="1.89" fill="#5555ab"/><rect x="735.2" y="347.22" width="50.5" height="1.89" fill="#4c4cb3"/><rect x="735.2" y="348.81" width="50.5" height="4.89" fill="#4949b6"/></g></g><rect x="499.4" y="97.5" width="141.6" height="14.2" fill="#ff3333"/><rect x="641" y="97.5" width="141.4" height="14.2" fill="#33d6ff"/><path d="M522.9 94.8V63M570.5 94.8V66.8M617.6 94.8V66.8M570.5 66.8H617.6M593.7 66.8V63M522.9 63H593.7M558.3 63V41.3H700V53.7M664.4 53.7H735.5M664.4 53.7V94.8M735.5 53.7V65.7M711.9 65.7H759.1M711.9 65.7V94.8M759.1 65.7V94.8" stroke="#444" stroke-width="0.9" fill="none"/><path d="M766.2 23.5V28.5" stroke="#e6e6e6" stroke-width="0.8"/><defs><linearGradient id="ck" x1="0" x2="1" y1="0" y2="0"><stop offset="0" stop-color="#0000ff"/><stop offset="0.5" stop-color="#808080"/><stop offset="1" stop-color="#ffff00"/></linearGradient><linearGradient id="pv" x1="0" x2="0" y1="0" y2="1"><stop offset="0" stop-color="#ff0000"/><stop offset="0.5" stop-color="#c1007f"/><stop offset="1" stop-color="#1400ff"/></linearGradient></defs><rect x="411.1" y="30.2" width="57.5" height="23.9" fill="url(#ck)" stroke="#555" stroke-width="0.6"/><path d="M411.4 54.1v3.4M425.7 54.1v3.4M439.8 54.1v3.4M453.9 54.1v3.4M467.7 54.1v3.4" stroke="#555" stroke-width="0.7"/><text x="411.4" y="68.6" font-family='"Liberation Mono", monospace' font-size="6.5" fill="#333" text-anchor="middle">-2</text><text x="425.7" y="68.6" font-family='"Liberation Mono", monospace' font-size="6.5" fill="#333" text-anchor="middle">-1</text><text x="439.8" y="68.6" font-family='"Liberation Mono", monospace' font-size="6.5" fill="#333" text-anchor="middle">0</text><text x="453.9" y="68.6" font-family='"Liberation Mono", monospace' font-size="6.5" fill="#333" text-anchor="middle">1</text><text x="467.7" y="68.6" font-family='"Liberation Mono", monospace' font-size="6.5" fill="#333" text-anchor="middle">2</text><text x="440.2" y="77.6" font-family='"Liberation Mono", monospace' font-size="6" fill="#333" text-anchor="middle">Value</text><text x="439.9" y="25.3" font-family='"Liberation Mono", monospace' font-weight="bold" font-size="7.9" fill="#111" text-anchor="middle">Color Key</text><rect x="547.2" y="361" width="14.7" height="14" fill="#ff3333"/><rect x="643.1" y="360.8" width="14.5" height="14" fill="#33d6ff"/><text x="567.9" y="373.3" font-family='"Liberation Sans", sans-serif' font-weight="bold" font-size="13.85" fill="#111">Sup-ASCs</text><text x="663.8" y="373.3" font-family='"Liberation Sans", sans-serif' font-weight="bold" font-size="13.85" fill="#111">Deep-ASCs</text><path d="M481.2 115.8H495.8M485.4 117.4H495.8M485.4 119.0H495.8M485.4 117.4V119.0M481.2 118.2H485.4M481.2 115.8V118.2M470.4 117.0H481.2M481.8 120.6H495.8M481.8 122.2H495.8M481.8 120.6V122.2M475.0 121.4H481.8M475.0 123.7H495.8M475.0 121.4V123.7M470.4 122.6H475.0M470.4 117.0V122.6M461.1 119.8H470.4M479.5 125.3H495.8M489.8 126.9H495.8M489.8 128.5H495.8M489.8 126.9V128.5M486.7 127.7H489.8M486.7 130.1H495.8M486.7 127.7V130.1M479.5 128.9H486.7M479.5 125.3V128.9M470.8 127.1H479.5M475.1 131.7H495.8M475.1 133.3H495.8M475.1 131.7V133.3M470.8 132.5H475.1M470.8 127.1V132.5M466.3 129.8H470.8M478.8 134.9H495.8M481.0 136.5H495.8M481.0 138.1H495.8M481.0 136.5V138.1M478.8 137.3H481.0M478.8 134.9V137.3M475.0 136.1H478.8M490.2 139.7H495.8M490.2 141.2H495.8M490.2 139.7V141.2M488.1 140.4H490.2M488.1 142.8H495.8M488.1 140.4V142.8M485.0 141.6H488.1M489.8 144.4H495.8M489.8 146.0H495.8M489.8 144.4V146.0M485.0 145.2H489.8M485.0 141.6V145.2M480.5 143.4H485.0M486.6 147.6H495.8M486.6 149.2H495.8M486.6 147.6V149.2M480.5 148.4H486.6M480.5 143.4V148.4M475.0 145.9H480.5M475.0 136.1V145.9M466.3 141.0H475.0M466.3 129.8V141.0M461.1 135.4H466.3M461.1 119.8V135.4M445.6 127.6H461.1M470.1 150.8H495.8M470.1 152.4H495.8M470.1 150.8V152.4M463.1 151.6H470.1M483.5 154.0H495.8M483.5 155.6H495.8M483.5 154.0V155.6M475.3 154.8H483.5M484.2 157.1H495.8M484.2 158.7H495.8M484.2 157.1V158.7M475.3 157.9H484.2M475.3 154.8V157.9M463.1 156.4H475.3M463.1 151.6V156.4M453.6 154.0H463.1M474.3 160.3H495.8M474.3 161.9H495.8M474.3 160.3V161.9M458.7 161.1H474.3M478.1 163.5H495.8M478.1 165.1H495.8M478.1 163.5V165.1M475.1 164.3H478.1M482.9 166.7H495.8M484.8 168.3H495.8M484.8 169.9H495.8M484.8 168.3V169.9M482.9 169.1H484.8M482.9 166.7V169.1M475.1 167.9H482.9M475.1 164.3V167.9M458.7 166.1H475.1M458.7 161.1V166.1M453.6 163.6H458.7M453.6 154.0V163.6M445.6 158.8H453.6M445.6 127.6V158.8M427.2 143.2H445.6M471.0 171.5H495.8M474.8 173.1H495.8M474.8 174.6H495.8M474.8 173.1V174.6M471.0 173.8H474.8M471.0 171.5V173.8M466.3 172.7H471.0M477.6 176.2H495.8M477.6 177.8H495.8M477.6 176.2V177.8M466.3 177.0H477.6M466.3 172.7V177.0M443.3 174.8H466.3M466.0 179.4H495.8M466.0 181.0H495.8M466.0 179.4V181.0M459.3 180.2H466.0M470.1 182.6H495.8M470.1 184.2H495.8M470.1 182.6V184.2M465.2 183.4H470.1M465.2 185.8H495.8M465.2 183.4V185.8M459.3 184.6H465.2M459.3 180.2V184.6M443.3 182.4H459.3M443.3 174.8V182.4M427.2 178.6H443.3M427.2 143.2V178.6M415.4 160.9H427.2M479.1 187.4H495.8M479.1 189.0H495.8M479.1 187.4V189.0M474.3 188.2H479.1M474.3 190.6H495.8M474.3 188.2V190.6M457.4 189.4H474.3M477.2 192.1H495.8M477.2 193.7H495.8M477.2 192.1V193.7M464.7 192.9H477.2M469.5 195.3H495.8M469.5 196.9H495.8M469.5 195.3V196.9M464.7 196.1H469.5M464.7 192.9V196.1M457.4 194.5H464.7M457.4 189.4V194.5M448.4 191.9H457.4M471.8 198.5H495.8M471.8 200.1H495.8M471.8 198.5V200.1M457.4 199.3H471.8M465.8 201.7H495.8M470.3 203.3H495.8M470.3 204.9H495.8M470.3 203.3V204.9M465.8 204.1H470.3M465.8 201.7V204.1M457.4 202.9H465.8M457.4 199.3V202.9M448.4 201.1H457.4M448.4 191.9V201.1M415.4 196.5H448.4M415.4 160.9V196.5M408.4 178.7H415.4M469.3 206.5H495.8M480.9 208.0H495.8M480.9 209.6H495.8M480.9 208.0V209.6M469.3 208.8H480.9M469.3 206.5V208.8M460.8 207.6H469.3M476.0 211.2H495.8M476.0 212.8H495.8M476.0 211.2V212.8M471.6 212.0H476.0M471.6 214.4H495.8M471.6 212.0V214.4M460.8 213.2H471.6M460.8 207.6V213.2M452.0 210.4H460.8M482.9 216.0H495.8M482.9 217.6H495.8M482.9 216.0V217.6M475.5 216.8H482.9M486.1 219.2H495.8M486.1 220.8H495.8M486.1 219.2V220.8M479.3 220.0H486.1M479.3 222.4H495.8M479.3 220.0V222.4M475.5 221.2H479.3M475.5 216.8V221.2M470.4 219.0H475.5M477.0 224.0H495.8M477.0 225.5H495.8M477.0 224.0V225.5M470.4 224.7H477.0M470.4 219.0V224.7M452.0 221.9H470.4M452.0 210.4V221.9M436.2 216.1H452.0M468.5 227.1H495.8M468.5 228.7H495.8M468.5 227.1V228.7M461.5 227.9H468.5M472.3 230.3H495.8M472.3 231.9H495.8M472.3 230.3V231.9M461.5 231.1H472.3M461.5 227.9V231.1M453.0 229.5H461.5M460.6 233.5H495.8M460.6 235.1H495.8M460.6 233.5V235.1M453.0 234.3H460.6M453.0 229.5V234.3M446.4 231.9H453.0M475.9 236.7H495.8M475.9 238.3H495.8M475.9 236.7V238.3M466.3 237.5H475.9M466.3 239.9H495.8M466.3 237.5V239.9M453.4 238.7H466.3M474.4 241.4H495.8M474.4 243.0H495.8M474.4 241.4V243.0M471.4 242.2H474.4M477.9 244.6H495.8M481.1 246.2H495.8M481.1 247.8H495.8M481.1 246.2V247.8M477.9 247.0H481.1M477.9 244.6V247.0M471.4 245.8H477.9M471.4 242.2V245.8M453.4 244.0H471.4M453.4 238.7V244.0M446.4 241.3H453.4M446.4 231.9V241.3M436.2 236.6H446.4M436.2 216.1V236.6M408.4 226.4H436.2M408.4 178.7V226.4M399.7 202.5H408.4M473.0 249.4H495.8M473.0 251.0H495.8M473.0 249.4V251.0M465.8 250.2H473.0M484.9 252.6H495.8M484.9 254.2H495.8M484.9 252.6V254.2M479.1 253.4H484.9M481.9 255.8H495.8M481.9 257.4H495.8M481.9 255.8V257.4M479.1 256.6H481.9M479.1 253.4V256.6M465.8 255.0H479.1M465.8 250.2V255.0M452.4 252.6H465.8M480.3 258.9H495.8M480.3 260.5H495.8M480.3 258.9V260.5M474.3 259.7H480.3M479.2 262.1H495.8M479.2 263.7H495.8M479.2 262.1V263.7M474.3 262.9H479.2M474.3 259.7V262.9M471.2 261.3H474.3M471.2 265.3H495.8M471.2 261.3V265.3M457.9 263.3H471.2M463.4 266.9H495.8M463.4 268.5H495.8M463.4 266.9V268.5M457.9 267.7H463.4M457.9 263.3V267.7M452.4 265.5H457.9M452.4 252.6V265.5M449.7 259.0H452.4M488.7 270.1H495.8M488.7 271.7H495.8M488.7 270.1V271.7M484.3 270.9H488.7M484.3 273.3H495.8M484.3 270.9V273.3M477.7 272.1H484.3M477.7 274.8H495.8M477.7 272.1V274.8M467.4 273.5H477.7M483.2 276.4H495.8M483.2 278.0H495.8M483.2 276.4V278.0M474.1 277.2H483.2M479.7 279.6H495.8M479.7 281.2H495.8M479.7 279.6V281.2M474.1 280.4H479.7M474.1 277.2V280.4M467.4 278.8H474.1M467.4 273.5V278.8M449.7 276.1H467.4M449.7 259.0V276.1M446.0 267.6H449.7M482.4 282.8H495.8M482.4 284.4H495.8M482.4 282.8V284.4M476.0 283.6H482.4M476.0 286.0H495.8M476.0 283.6V286.0M462.5 284.8H476.0M472.9 287.6H495.8M472.9 289.2H495.8M472.9 287.6V289.2M462.5 288.4H472.9M462.5 284.8V288.4M446.0 286.6H462.5M446.0 267.6V286.6M439.3 277.1H446.0M480.1 290.8H495.8M480.1 292.3H495.8M480.1 290.8V292.3M467.4 291.5H480.1M467.4 293.9H495.8M467.4 291.5V293.9M462.5 292.7H467.4M474.5 295.5H495.8M482.2 297.1H495.8M482.2 298.7H495.8M482.2 297.1V298.7M474.5 297.9H482.2M474.5 295.5V297.9M462.5 296.7H474.5M462.5 292.7V296.7M439.3 294.7H462.5M439.3 277.1V294.7M422.9 285.9H439.3M472.0 300.3H495.8M472.0 301.9H495.8M472.0 300.3V301.9M462.8 301.1H472.0M474.4 303.5H495.8M474.4 305.1H495.8M474.4 303.5V305.1M462.8 304.3H474.4M462.8 301.1V304.3M457.9 302.7H462.8M475.4 306.7H495.8M475.4 308.3H495.8M475.4 306.7V308.3M470.1 307.5H475.4M470.1 309.8H495.8M470.1 307.5V309.8M457.9 308.6H470.1M457.9 302.7V308.6M451.3 305.7H457.9M467.5 311.4H495.8M467.5 313.0H495.8M467.5 311.4V313.0M461.0 312.2H467.5M461.0 314.6H495.8M461.0 312.2V314.6M451.3 313.4H461.0M451.3 305.7V313.4M435.2 309.5H451.3M479.5 316.2H495.8M479.5 317.8H495.8M479.5 316.2V317.8M475.8 317.0H479.5M483.5 319.4H495.8M483.5 321.0H495.8M483.5 319.4V321.0M475.8 320.2H483.5M475.8 317.0V320.2M469.9 318.6H475.8M480.6 322.6H495.8M480.6 324.2H495.8M480.6 322.6V324.2M469.9 323.4H480.6M469.9 318.6V323.4M460.6 321.0H469.9M475.6 325.7H495.8M475.6 327.3H495.8M475.6 325.7V327.3M471.6 326.5H475.6M486.4 328.9H495.8M486.4 330.5H495.8M486.4 328.9V330.5M481.2 329.7H486.4M481.2 332.1H495.8M481.2 329.7V332.1M471.6 330.9H481.2M471.6 326.5V330.9M460.6 328.7H471.6M460.6 321.0V328.7M435.2 324.9H460.6M435.2 309.5V324.9M422.9 317.2H435.2M422.9 285.9V317.2M410.8 301.6H422.9M469.0 333.7H495.8M469.0 335.3H495.8M469.0 333.7V335.3M459.1 334.5H469.0M475.8 336.9H495.8M475.8 338.5H495.8M475.8 336.9V338.5M466.1 337.7H475.8M472.8 340.1H495.8M472.8 341.7H495.8M472.8 340.1V341.7M466.1 340.9H472.8M466.1 337.7V340.9M459.1 339.3H466.1M459.1 334.5V339.3M449.3 336.9H459.1M473.7 343.2H495.8M473.7 344.8H495.8M473.7 343.2V344.8M469.9 344.0H473.7M480.5 346.4H495.8M485.9 348.0H495.8M485.9 349.6H495.8M485.9 348.0V349.6M480.5 348.8H485.9M480.5 346.4V348.8M469.9 347.6H480.5M469.9 344.0V347.6M449.3 345.8H469.9M449.3 336.9V345.8M410.8 341.4H449.3M410.8 301.6V341.4M399.7 321.5H410.8M399.7 202.5V321.5" stroke="#555" stroke-width="0.7" fill="none"/><rect x="197.4" y="465.5" width="277.6" height="487.1" fill="#fff"/><path d="M209.5 465.5V952.6M241.2 465.5V952.6M272.8 465.5V952.6M304.5 465.5V952.6M336.1 465.5V952.6M367.8 465.5V952.6M399.5 465.5V952.6M431.1 465.5V952.6M462.8 465.5V952.6M197.4 480.0H475.0M197.4 504.1H475.0M197.4 528.2H475.0M197.4 552.4H475.0M197.4 576.5H475.0M197.4 600.6H475.0M197.4 624.7H475.0M197.4 648.8H475.0M197.4 673.0H475.0M197.4 697.1H475.0M197.4 721.2H475.0M197.4 745.3H475.0M197.4 769.4H475.0M197.4 793.6H475.0M197.4 817.7H475.0M197.4 841.8H475.0M197.4 865.9H475.0M197.4 890.0H475.0M197.4 914.2H475.0M197.4 938.3H475.0" stroke="#ededed" stroke-width="0.8" fill="none"/><rect x="197.4" y="465.5" width="277.6" height="487.1" fill="none" stroke="#9a9a9a" stroke-width="1.1"/><path d="M195.1 480.0H197.4M195.1 504.1H197.4M195.1 528.2H197.4M195.1 552.4H197.4M195.1 576.5H197.4M195.1 600.6H197.4M195.1 624.7H197.4M195.1 648.8H197.4M195.1 673.0H197.4M195.1 697.1H197.4M195.1 721.2H197.4M195.1 745.3H197.4M195.1 769.4H197.4M195.1 793.6H197.4M195.1 817.7H197.4M195.1 841.8H197.4M195.1 865.9H197.4M195.1 890.0H197.4M195.1 914.2H197.4M195.1 938.3H197.4M209.5 952.6v2.3M272.8 952.6v2.3M336.1 952.6v2.3M399.5 952.6v2.3M462.8 952.6v2.3" stroke="#333" stroke-width="1" fill="none"/><circle cx="431.7" cy="480.0" r="7.50" fill="#ff0014"/><text x="186.8" y="483.8" font-family='"Liberation Sans", sans-serif' font-size="9.8" fill="#222" text-anchor="end">cell cycle</text><circle cx="409.5" cy="504.1" r="7.15" fill="#ff0014"/><text x="186.8" y="507.9" font-family='"Liberation Sans", sans-serif' font-size="9.8" fill="#222" text-anchor="end">cell cycle process</text><circle cx="387.3" cy="528.2" r="6.79" fill="#ff0014"/><text x="186.8" y="532.0" font-family='"Liberation Sans", sans-serif' font-size="9.8" fill="#222" text-anchor="end">cell division</text><circle cx="387.3" cy="552.4" r="6.79" fill="#dc0070"/><text x="186.8" y="556.2" font-family='"Liberation Sans", sans-serif' font-size="9.8" fill="#222" text-anchor="end">cytoskeleton organization</text><circle cx="376.1" cy="576.5" r="6.59" fill="#ff0014"/><text x="186.8" y="580.3" font-family='"Liberation Sans", sans-serif' font-size="9.8" fill="#222" text-anchor="end">mitotic cell cycle</text><circle cx="365.0" cy="600.6" r="6.40" fill="#ff0014"/><text x="186.8" y="604.4" font-family='"Liberation Sans", sans-serif' font-size="9.8" fill="#222" text-anchor="end">microtubule-based process</text><circle cx="365.0" cy="624.7" r="6.40" fill="#ff0014"/><text x="186.8" y="628.5" font-family='"Liberation Sans", sans-serif' font-size="9.8" fill="#222" text-anchor="end">mitotic cell cycle process</text><circle cx="353.9" cy="648.8" r="6.19" fill="#ff0014"/><text x="186.8" y="652.6" font-family='"Liberation Sans", sans-serif' font-size="9.8" fill="#222" text-anchor="end">organelle fission</text><circle cx="353.9" cy="673.0" r="6.19" fill="#ff0014"/><text x="186.8" y="676.8" font-family='"Liberation Sans", sans-serif' font-size="9.8" fill="#222" text-anchor="end">microtubule cytoskeleton organization</text><circle cx="342.8" cy="697.1" r="5.98" fill="#ff0014"/><text x="186.8" y="700.9" font-family='"Liberation Sans", sans-serif' font-size="9.8" fill="#222" text-anchor="end">nuclear division</text><circle cx="309.5" cy="721.2" r="5.30" fill="#ff0014"/><text x="186.8" y="725.0" font-family='"Liberation Sans", sans-serif' font-size="9.8" fill="#222" text-anchor="end">spindle organization</text><circle cx="309.5" cy="745.3" r="5.30" fill="#ff0014"/><text x="186.8" y="749.1" font-family='"Liberation Sans", sans-serif' font-size="9.8" fill="#222" text-anchor="end">nuclear chromosome segregation</text><circle cx="309.5" cy="769.4" r="5.30" fill="#ff0014"/><text x="186.8" y="773.2" font-family='"Liberation Sans", sans-serif' font-size="9.8" fill="#222" text-anchor="end">mitotic nuclear division</text><circle cx="309.5" cy="793.6" r="5.30" fill="#ff0014"/><text x="186.8" y="797.4" font-family='"Liberation Sans", sans-serif' font-size="9.8" fill="#222" text-anchor="end">chromosome segregation</text><circle cx="298.4" cy="817.7" r="5.05" fill="#ff0014"/><text x="186.8" y="821.5" font-family='"Liberation Sans", sans-serif' font-size="9.8" fill="#222" text-anchor="end">mitotic spindle organization</text><circle cx="298.4" cy="841.8" r="5.05" fill="#ff0014"/><text x="186.8" y="845.6" font-family='"Liberation Sans", sans-serif' font-size="9.8" fill="#222" text-anchor="end">sister chromatid segregation</text><circle cx="298.4" cy="865.9" r="5.05" fill="#ff0014"/><text x="186.6" y="864.3" font-family='"Liberation Sans", sans-serif' font-size="9.8" fill="#222" text-anchor="end">microtubule cytoskeleton</text><text x="186.6" y="874.7" font-family='"Liberation Sans", sans-serif' font-size="9.8" fill="#222" text-anchor="end">organization involved in ...</text><circle cx="287.3" cy="890.0" r="4.78" fill="#ff0014"/><text x="186.8" y="893.8" font-family='"Liberation Sans", sans-serif' font-size="9.8" fill="#222" text-anchor="end">mitotic sister chromatid segregation</text><circle cx="287.3" cy="914.2" r="4.78" fill="#a000c4"/><text x="186.8" y="918.0" font-family='"Liberation Sans", sans-serif' font-size="9.8" fill="#222" text-anchor="end">meiotic cell cycle</text><circle cx="276.2" cy="938.3" r="4.50" fill="#0000ff"/><text x="186.8" y="942.1" font-family='"Liberation Sans", sans-serif' font-size="9.8" fill="#222" text-anchor="end">meiotic nuclear division</text><text x="209.5" y="964.2" font-family='"Liberation Sans", sans-serif' font-size="9.8" fill="#4d4d4d" text-anchor="middle">0.0</text><text x="272.8" y="964.2" font-family='"Liberation Sans", sans-serif' font-size="9.8" fill="#4d4d4d" text-anchor="middle">0.1</text><text x="336.1" y="964.2" font-family='"Liberation Sans", sans-serif' font-size="9.8" fill="#4d4d4d" text-anchor="middle">0.2</text><text x="399.5" y="964.2" font-family='"Liberation Sans", sans-serif' font-size="9.8" fill="#4d4d4d" text-anchor="middle">0.3</text><text x="462.8" y="964.2" font-family='"Liberation Sans", sans-serif' font-size="9.8" fill="#4d4d4d" text-anchor="middle">0.4</text><text x="336.2" y="977" font-family='"Liberation Sans", sans-serif' font-size="9.8" fill="#222" text-anchor="middle">GeneRatio (intersection_size/query_size)</text><text x="197.8" y="445.8" font-family='"Liberation Sans", sans-serif' font-weight="bold" font-size="16.2" fill="#111">Biological Process</text><text x="197.6" y="459.5" font-family='"Liberation Sans", sans-serif' font-size="9.2" fill="#222">Top 20 terms of GO functional Aanlysis</text><text x="489.6" y="635.6" font-family='"Liberation Sans", sans-serif' font-size="9" fill="#222">Intersection Size</text><circle cx="498.4" cy="647.9" r="5.4" fill="#000"/><text x="512.5" y="651.0" font-family='"Liberation Sans", sans-serif' font-size="7.3" fill="#333">10</text><circle cx="498.4" cy="663.2" r="6.5" fill="#000"/><text x="512.5" y="666.3" font-family='"Liberation Sans", sans-serif' font-size="7.3" fill="#333">15</text><circle cx="498.4" cy="680.3" r="7.6" fill="#000"/><text x="512.5" y="683.4" font-family='"Liberation Sans", sans-serif' font-size="7.3" fill="#333">20</text><text x="489.2" y="714.1" font-family='"Liberation Sans", sans-serif' font-size="9" fill="#222">Adj. p-value</text><rect x="489.2" y="719.8" width="14.1" height="70.2" fill="url(#pv)"/><text x="507.9" y="737.4" font-family='"Liberation Sans", sans-serif' font-size="7.3" fill="#333">0.0005</text><text x="507.9" y="752.1" font-family='"Liberation Sans", sans-serif' font-size="7.3" fill="#333">0.0010</text><text x="507.9" y="766.8" font-family='"Liberation Sans", sans-serif' font-size="7.3" fill="#333">0.0015</text><text x="507.9" y="781.5" font-family='"Liberation Sans", sans-serif' font-size="7.3" fill="#333">0.0020</text><path d="M489.2 734.3h2.8M500.5 734.3h2.8M489.2 749h2.8M500.5 749h2.8M489.2 763.7h2.8M500.5 763.7h2.8M489.2 778.4h2.8M500.5 778.4h2.8" stroke="#fff" stroke-width="0.8" opacity="0.8"/></svg></body></html>
